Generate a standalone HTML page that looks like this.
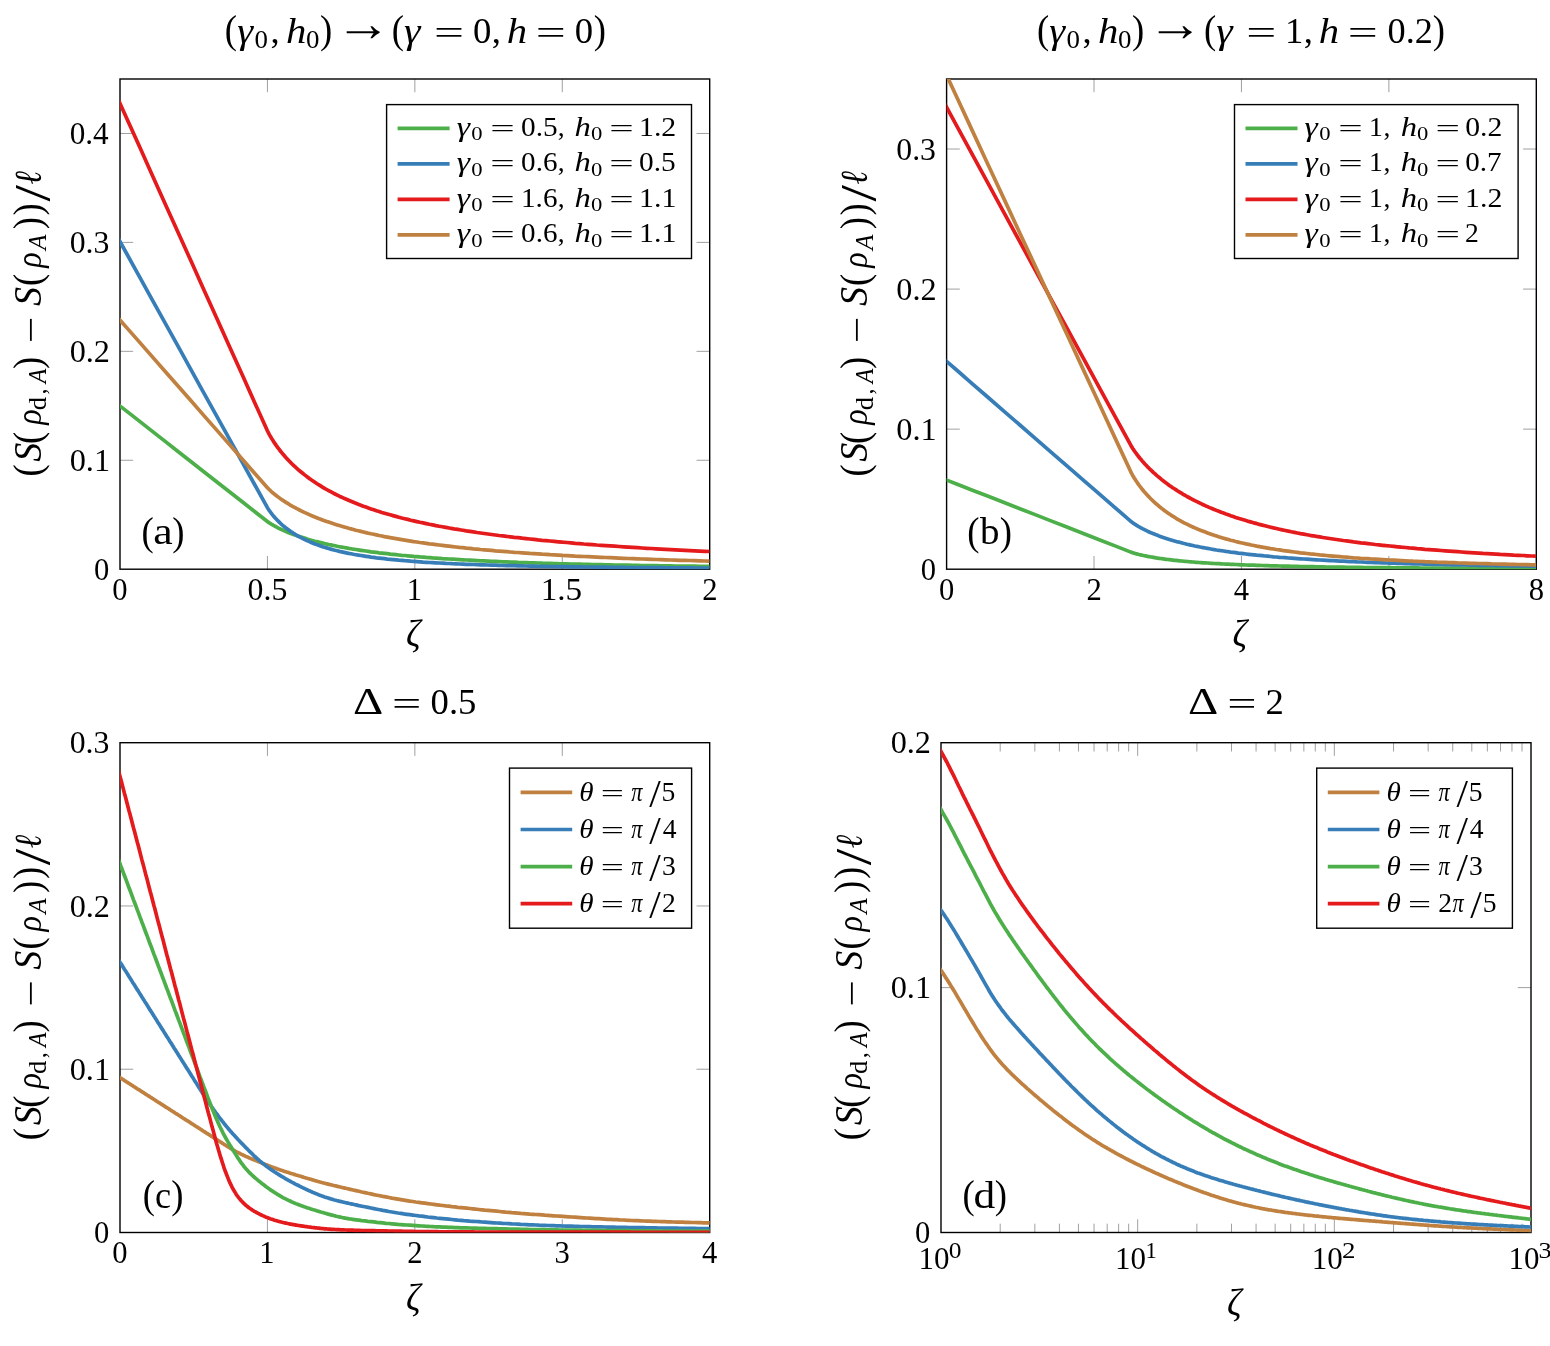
<!DOCTYPE html>
<html lang="en"><head><meta charset="utf-8"><title>Figure</title>
<style>
html,body{margin:0;padding:0;background:#fff;}
svg{display:block;}
svg text{font-family:"Liberation Serif","DejaVu Serif",serif;fill:#000;}
</style></head><body>
<svg width="1550" height="1346" viewBox="0 0 1550 1346">
<rect width="1550" height="1346" fill="#fff"/>
<defs>
<clipPath id="ca"><rect x="120" y="79" width="589.7" height="490.2"/></clipPath>
<clipPath id="cb"><rect x="946.6" y="79" width="589.7" height="490.2"/></clipPath>
<clipPath id="cc"><rect x="120" y="742.7" width="589.7" height="489.8"/></clipPath>
<clipPath id="cd"><rect x="941" y="742.7" width="590" height="489.8"/></clipPath>
</defs>
<path d="M267.43 569.2v-13.2M267.43 79v13.2M414.85 569.2v-13.2M414.85 79v13.2M562.28 569.2v-13.2M562.28 79v13.2M120 460.27h13.2M709.7 460.27h-13.2M120 351.33h13.2M709.7 351.33h-13.2M120 242.4h13.2M709.7 242.4h-13.2M120 133.47h13.2M709.7 133.47h-13.2" stroke="#6c6c6c" stroke-width="0.65" fill="none"/>
<rect x="120" y="79" width="589.7" height="490.2" fill="none" stroke="#000" stroke-width="1.4"/>
<polyline points="114.1,401.4 126.9,411.4 139.7,421.4 152.4,431.4 165.2,441.4 178.0,451.5 190.8,461.5 203.5,471.5 216.3,481.5 229.1,491.5 241.9,501.5 254.6,511.5 267.4,521.5 267.5,521.6 267.6,521.6 267.8,521.8 268.0,521.9 268.3,522.2 268.6,522.4 269.0,522.7 269.5,522.9 269.9,523.3 270.5,523.6 271.0,523.9 271.6,524.3 272.3,524.7 273.0,525.1 273.7,525.5 274.5,526.0 275.3,526.4 276.2,526.9 277.1,527.3 278.0,527.8 279.0,528.3 280.0,528.8 281.0,529.3 282.1,529.8 283.3,530.3 284.4,530.8 285.6,531.3 286.8,531.9 288.1,532.4 289.4,532.9 290.7,533.4 292.1,534.0 293.5,534.5 295.0,535.0 296.4,535.5 297.9,536.1 299.5,536.6 301.1,537.1 302.7,537.6 304.3,538.1 306.0,538.6 307.7,539.2 309.4,539.7 311.2,540.2 313.0,540.7 314.9,541.2 316.7,541.6 318.6,542.1 320.6,542.6 322.5,543.1 324.5,543.6 326.6,544.0 328.6,544.5 330.7,544.9 332.9,545.4 335.0,545.8 337.2,546.3 339.4,546.7 341.7,547.1 344.0,547.5 346.3,547.9 348.6,548.4 351.0,548.8 353.4,549.2 355.8,549.5 358.3,549.9 360.8,550.3 363.3,550.7 365.9,551.0 368.4,551.4 371.0,551.8 373.7,552.1 376.4,552.4 379.1,552.8 381.8,553.1 384.5,553.4 387.3,553.7 390.2,554.1 393.0,554.4 395.9,554.7 398.8,555.0 401.7,555.3 404.7,555.5 407.7,555.8 410.7,556.1 413.7,556.4 416.8,556.6 419.9,556.9 423.1,557.1 426.2,557.4 429.4,557.6 432.6,557.9 435.9,558.1 439.1,558.3 442.4,558.6 445.8,558.8 449.1,559.0 452.5,559.2 455.9,559.4 459.4,559.6 462.8,559.8 466.3,560.0 469.9,560.2 473.4,560.4 477.0,560.6 480.6,560.8 484.2,560.9 487.9,561.1 491.6,561.3 495.3,561.4 499.0,561.6 502.8,561.8 506.6,561.9 510.4,562.1 514.3,562.2 518.2,562.4 522.1,562.5 526.0,562.6 529.9,562.8 533.9,562.9 537.9,563.0 542.0,563.2 546.0,563.3 550.1,563.4 554.2,563.5 558.4,563.7 562.6,563.8 566.8,563.9 571.0,564.0 575.2,564.1 579.5,564.2 583.8,564.3 588.1,564.4 592.5,564.5 596.9,564.6 601.3,564.7 605.7,564.8 610.2,564.9 614.6,565.0 619.2,565.1 623.7,565.1 628.2,565.2 632.8,565.3 637.4,565.4 642.1,565.5 646.8,565.5 651.4,565.6 656.2,565.7 660.9,565.8 665.7,565.8 670.5,565.9 675.3,566.0 680.1,566.0 685.0,566.1 689.9,566.1 694.8,566.2 699.7,566.3 704.7,566.3 709.7,566.4" fill="none" stroke="#4daf4a" stroke-width="3.7" stroke-linejoin="round" clip-path="url(#ca)"/>
<polyline points="114.1,231.0 126.9,254.0 139.7,277.1 152.4,300.1 165.2,323.2 178.0,346.2 190.8,369.3 203.5,392.3 216.3,415.4 229.1,438.4 241.9,461.5 254.6,484.5 267.4,507.6 267.5,507.7 267.6,507.9 267.8,508.2 268.0,508.6 268.3,509.0 268.6,509.5 269.0,510.1 269.5,510.8 269.9,511.4 270.5,512.2 271.0,512.9 271.6,513.7 272.3,514.6 273.0,515.4 273.7,516.3 274.5,517.2 275.3,518.1 276.2,519.0 277.1,520.0 278.0,520.9 279.0,521.9 280.0,522.9 281.0,523.8 282.1,524.8 283.3,525.8 284.4,526.7 285.6,527.7 286.8,528.6 288.1,529.6 289.4,530.5 290.7,531.5 292.1,532.4 293.5,533.3 295.0,534.2 296.4,535.1 297.9,536.0 299.5,536.8 301.1,537.7 302.7,538.5 304.3,539.4 306.0,540.2 307.7,540.9 309.4,541.7 311.2,542.5 313.0,543.2 314.9,543.9 316.7,544.6 318.6,545.3 320.6,546.0 322.5,546.7 324.5,547.3 326.6,547.9 328.6,548.5 330.7,549.1 332.9,549.7 335.0,550.3 337.2,550.8 339.4,551.4 341.7,551.9 344.0,552.4 346.3,552.9 348.6,553.4 351.0,553.8 353.4,554.3 355.8,554.7 358.3,555.1 360.8,555.5 363.3,555.9 365.9,556.3 368.4,556.7 371.0,557.1 373.7,557.4 376.4,557.8 379.1,558.1 381.8,558.4 384.5,558.7 387.3,559.1 390.2,559.3 393.0,559.6 395.9,559.9 398.8,560.2 401.7,560.4 404.7,560.7 407.7,560.9 410.7,561.2 413.7,561.4 416.8,561.6 419.9,561.8 423.1,562.1 426.2,562.3 429.4,562.5 432.6,562.6 435.9,562.8 439.1,563.0 442.4,563.2 445.8,563.4 449.1,563.5 452.5,563.7 455.9,563.8 459.4,564.0 462.8,564.1 466.3,564.3 469.9,564.4 473.4,564.5 477.0,564.7 480.6,564.8 484.2,564.9 487.9,565.0 491.6,565.1 495.3,565.2 499.0,565.4 502.8,565.5 506.6,565.6 510.4,565.7 514.3,565.7 518.2,565.8 522.1,565.9 526.0,566.0 529.9,566.1 533.9,566.2 537.9,566.3 542.0,566.3 546.0,566.4 550.1,566.5 554.2,566.6 558.4,566.6 562.6,566.7 566.8,566.7 571.0,566.8 575.2,566.9 579.5,566.9 583.8,567.0 588.1,567.0 592.5,567.1 596.9,567.1 601.3,567.2 605.7,567.2 610.2,567.3 614.6,567.3 619.2,567.4 623.7,567.4 628.2,567.5 632.8,567.5 637.4,567.6 642.1,567.6 646.8,567.6 651.4,567.7 656.2,567.7 660.9,567.7 665.7,567.8 670.5,567.8 675.3,567.8 680.1,567.9 685.0,567.9 689.9,567.9 694.8,568.0 699.7,568.0 704.7,568.0 709.7,568.1" fill="none" stroke="#377eb8" stroke-width="3.7" stroke-linejoin="round" clip-path="url(#ca)"/>
<polyline points="114.1,90.4 126.9,118.8 139.7,147.1 152.4,175.5 165.2,203.9 178.0,232.2 190.8,260.6 203.5,288.9 216.3,317.3 229.1,345.7 241.9,374.0 254.6,402.4 267.4,430.7 267.5,430.8 267.6,431.1 267.8,431.5 268.0,431.9 268.3,432.5 268.6,433.2 269.0,433.9 269.5,434.7 269.9,435.6 270.5,436.5 271.0,437.4 271.6,438.5 272.3,439.5 273.0,440.6 273.7,441.8 274.5,442.9 275.3,444.1 276.2,445.4 277.1,446.6 278.0,447.9 279.0,449.2 280.0,450.5 281.0,451.8 282.1,453.1 283.3,454.5 284.4,455.8 285.6,457.2 286.8,458.5 288.1,459.9 289.4,461.2 290.7,462.6 292.1,464.0 293.5,465.3 295.0,466.7 296.4,468.0 297.9,469.4 299.5,470.7 301.1,472.0 302.7,473.3 304.3,474.6 306.0,475.9 307.7,477.2 309.4,478.5 311.2,479.8 313.0,481.0 314.9,482.3 316.7,483.5 318.6,484.7 320.6,485.9 322.5,487.1 324.5,488.3 326.6,489.5 328.6,490.6 330.7,491.7 332.9,492.9 335.0,494.0 337.2,495.1 339.4,496.2 341.7,497.2 344.0,498.3 346.3,499.3 348.6,500.3 351.0,501.3 353.4,502.3 355.8,503.3 358.3,504.3 360.8,505.2 363.3,506.2 365.9,507.1 368.4,508.0 371.0,508.9 373.7,509.8 376.4,510.7 379.1,511.5 381.8,512.4 384.5,513.2 387.3,514.0 390.2,514.8 393.0,515.6 395.9,516.4 398.8,517.2 401.7,518.0 404.7,518.7 407.7,519.4 410.7,520.2 413.7,520.9 416.8,521.6 419.9,522.3 423.1,522.9 426.2,523.6 429.4,524.3 432.6,524.9 435.9,525.6 439.1,526.2 442.4,526.8 445.8,527.4 449.1,528.0 452.5,528.6 455.9,529.2 459.4,529.7 462.8,530.3 466.3,530.9 469.9,531.4 473.4,531.9 477.0,532.5 480.6,533.0 484.2,533.5 487.9,534.0 491.6,534.5 495.3,535.0 499.0,535.5 502.8,535.9 506.6,536.4 510.4,536.8 514.3,537.3 518.2,537.7 522.1,538.2 526.0,538.6 529.9,539.0 533.9,539.4 537.9,539.9 542.0,540.3 546.0,540.6 550.1,541.0 554.2,541.4 558.4,541.8 562.6,542.2 566.8,542.5 571.0,542.9 575.2,543.3 579.5,543.6 583.8,544.0 588.1,544.3 592.5,544.6 596.9,545.0 601.3,545.3 605.7,545.6 610.2,545.9 614.6,546.2 619.2,546.5 623.7,546.8 628.2,547.1 632.8,547.4 637.4,547.7 642.1,548.0 646.8,548.3 651.4,548.5 656.2,548.8 660.9,549.1 665.7,549.3 670.5,549.6 675.3,549.9 680.1,550.1 685.0,550.4 689.9,550.6 694.8,550.8 699.7,551.1 704.7,551.3 709.7,551.5" fill="none" stroke="#e41a1c" stroke-width="3.7" stroke-linejoin="round" clip-path="url(#ca)"/>
<polyline points="114.1,313.4 126.9,327.9 139.7,342.4 152.4,356.9 165.2,371.5 178.0,386.0 190.8,400.5 203.5,415.1 216.3,429.6 229.1,444.1 241.9,458.7 254.6,473.2 267.4,487.7 267.5,487.8 267.6,487.9 267.8,488.1 268.0,488.3 268.3,488.6 268.6,489.0 269.0,489.4 269.5,489.8 269.9,490.2 270.5,490.7 271.0,491.2 271.6,491.8 272.3,492.4 273.0,493.0 273.7,493.6 274.5,494.2 275.3,494.9 276.2,495.5 277.1,496.2 278.0,496.9 279.0,497.6 280.0,498.4 281.0,499.1 282.1,499.9 283.3,500.6 284.4,501.4 285.6,502.1 286.8,502.9 288.1,503.7 289.4,504.5 290.7,505.3 292.1,506.1 293.5,506.8 295.0,507.6 296.4,508.4 297.9,509.2 299.5,510.0 301.1,510.8 302.7,511.6 304.3,512.4 306.0,513.1 307.7,513.9 309.4,514.7 311.2,515.5 313.0,516.2 314.9,517.0 316.7,517.7 318.6,518.5 320.6,519.2 322.5,520.0 324.5,520.7 326.6,521.4 328.6,522.1 330.7,522.8 332.9,523.5 335.0,524.2 337.2,524.9 339.4,525.6 341.7,526.3 344.0,526.9 346.3,527.6 348.6,528.3 351.0,528.9 353.4,529.5 355.8,530.2 358.3,530.8 360.8,531.4 363.3,532.0 365.9,532.6 368.4,533.2 371.0,533.8 373.7,534.3 376.4,534.9 379.1,535.5 381.8,536.0 384.5,536.6 387.3,537.1 390.2,537.6 393.0,538.1 395.9,538.6 398.8,539.1 401.7,539.6 404.7,540.1 407.7,540.6 410.7,541.1 413.7,541.6 416.8,542.0 419.9,542.5 423.1,542.9 426.2,543.3 429.4,543.8 432.6,544.2 435.9,544.6 439.1,545.0 442.4,545.4 445.8,545.8 449.1,546.2 452.5,546.6 455.9,547.0 459.4,547.4 462.8,547.7 466.3,548.1 469.9,548.4 473.4,548.8 477.0,549.1 480.6,549.5 484.2,549.8 487.9,550.1 491.6,550.4 495.3,550.8 499.0,551.1 502.8,551.4 506.6,551.7 510.4,552.0 514.3,552.3 518.2,552.5 522.1,552.8 526.0,553.1 529.9,553.4 533.9,553.6 537.9,553.9 542.0,554.2 546.0,554.4 550.1,554.7 554.2,554.9 558.4,555.1 562.6,555.4 566.8,555.6 571.0,555.8 575.2,556.1 579.5,556.3 583.8,556.5 588.1,556.7 592.5,556.9 596.9,557.1 601.3,557.3 605.7,557.5 610.2,557.7 614.6,557.9 619.2,558.1 623.7,558.3 628.2,558.5 632.8,558.6 637.4,558.8 642.1,559.0 646.8,559.2 651.4,559.3 656.2,559.5 660.9,559.6 665.7,559.8 670.5,560.0 675.3,560.1 680.1,560.3 685.0,560.4 689.9,560.5 694.8,560.7 699.7,560.8 704.7,561.0 709.7,561.1" fill="none" stroke="#bf8040" stroke-width="3.7" stroke-linejoin="round" clip-path="url(#ca)"/>
<path d="M1094.03 569.2v-13.2M1094.03 79v13.2M1241.45 569.2v-13.2M1241.45 79v13.2M1388.88 569.2v-13.2M1388.88 79v13.2M946.6 429.14h13.2M1536.3 429.14h-13.2M946.6 289.09h13.2M1536.3 289.09h-13.2M946.6 149.03h13.2M1536.3 149.03h-13.2" stroke="#6c6c6c" stroke-width="0.65" fill="none"/>
<rect x="946.6" y="79" width="589.7" height="490.2" fill="none" stroke="#000" stroke-width="1.4"/>
<polyline points="940.7,477.8 956.6,484.0 972.4,490.2 988.2,496.3 1004.1,502.5 1019.9,508.7 1035.8,514.9 1051.6,521.1 1067.5,527.3 1083.3,533.5 1099.2,539.7 1115.0,545.9 1130.9,552.1 1130.9,552.1 1131.0,552.2 1131.2,552.2 1131.4,552.3 1131.7,552.4 1132.0,552.5 1132.3,552.6 1132.7,552.8 1133.2,552.9 1133.7,553.0 1134.2,553.2 1134.8,553.4 1135.4,553.5 1136.0,553.7 1136.7,553.9 1137.4,554.1 1138.1,554.3 1138.9,554.5 1139.7,554.7 1140.6,554.9 1141.5,555.1 1142.4,555.3 1143.4,555.5 1144.4,555.7 1145.4,555.9 1146.5,556.1 1147.5,556.4 1148.7,556.6 1149.8,556.8 1151.0,557.0 1152.3,557.2 1153.5,557.4 1154.8,557.6 1156.1,557.9 1157.5,558.1 1158.9,558.3 1160.3,558.5 1161.7,558.7 1163.2,558.9 1164.7,559.1 1166.2,559.3 1167.8,559.5 1169.4,559.7 1171.0,559.9 1172.7,560.1 1174.4,560.3 1176.1,560.4 1177.8,560.6 1179.6,560.8 1181.4,561.0 1183.2,561.2 1185.1,561.3 1187.0,561.5 1188.9,561.7 1190.9,561.8 1192.8,562.0 1194.8,562.2 1196.9,562.3 1198.9,562.5 1201.0,562.6 1203.2,562.8 1205.3,562.9 1207.5,563.0 1209.7,563.2 1211.9,563.3 1214.2,563.5 1216.5,563.6 1218.8,563.7 1221.1,563.8 1223.5,564.0 1225.9,564.1 1228.3,564.2 1230.7,564.3 1233.2,564.4 1235.7,564.5 1238.2,564.6 1240.8,564.8 1243.4,564.9 1246.0,565.0 1248.6,565.1 1251.3,565.2 1254.0,565.2 1256.7,565.3 1259.4,565.4 1262.2,565.5 1265.0,565.6 1267.8,565.7 1270.7,565.8 1273.5,565.9 1276.4,565.9 1279.4,566.0 1282.3,566.1 1285.3,566.2 1288.3,566.2 1291.3,566.3 1294.4,566.4 1297.4,566.4 1300.5,566.5 1303.7,566.6 1306.8,566.6 1310.0,566.7 1313.2,566.7 1316.4,566.8 1319.7,566.9 1323.0,566.9 1326.3,567.0 1329.6,567.0 1333.0,567.1 1336.4,567.1 1339.8,567.2 1343.2,567.2 1346.6,567.3 1350.1,567.3 1353.6,567.3 1357.2,567.4 1360.7,567.4 1364.3,567.5 1367.9,567.5 1371.5,567.5 1375.2,567.6 1378.9,567.6 1382.6,567.7 1386.3,567.7 1390.0,567.7 1393.8,567.8 1397.6,567.8 1401.4,567.8 1405.3,567.9 1409.1,567.9 1413.0,567.9 1417.0,567.9 1420.9,568.0 1424.9,568.0 1428.9,568.0 1432.9,568.0 1436.9,568.1 1441.0,568.1 1445.1,568.1 1449.2,568.1 1453.3,568.2 1457.5,568.2 1461.6,568.2 1465.8,568.2 1470.1,568.3 1474.3,568.3 1478.6,568.3 1482.9,568.3 1487.2,568.3 1491.6,568.4 1495.9,568.4 1500.3,568.4 1504.7,568.4 1509.2,568.4 1513.6,568.4 1518.1,568.5 1522.6,568.5 1527.2,568.5 1531.7,568.5 1536.3,568.5" fill="none" stroke="#4daf4a" stroke-width="3.7" stroke-linejoin="round" clip-path="url(#cb)"/>
<polyline points="940.7,356.3 956.6,370.0 972.4,383.8 988.2,397.5 1004.1,411.3 1019.9,425.0 1035.8,438.8 1051.6,452.6 1067.5,466.3 1083.3,480.1 1099.2,493.8 1115.0,507.6 1130.9,521.3 1130.9,521.4 1131.0,521.4 1131.2,521.6 1131.4,521.8 1131.7,522.0 1132.0,522.2 1132.3,522.5 1132.7,522.8 1133.2,523.1 1133.7,523.4 1134.2,523.8 1134.8,524.1 1135.4,524.5 1136.0,524.9 1136.7,525.4 1137.4,525.8 1138.1,526.3 1138.9,526.7 1139.7,527.2 1140.6,527.7 1141.5,528.1 1142.4,528.6 1143.4,529.1 1144.4,529.6 1145.4,530.1 1146.5,530.7 1147.5,531.2 1148.7,531.7 1149.8,532.2 1151.0,532.7 1152.3,533.2 1153.5,533.8 1154.8,534.3 1156.1,534.8 1157.5,535.3 1158.9,535.9 1160.3,536.4 1161.7,536.9 1163.2,537.4 1164.7,537.9 1166.2,538.4 1167.8,538.9 1169.4,539.4 1171.0,539.9 1172.7,540.4 1174.4,540.9 1176.1,541.4 1177.8,541.9 1179.6,542.3 1181.4,542.8 1183.2,543.3 1185.1,543.7 1187.0,544.2 1188.9,544.6 1190.9,545.1 1192.8,545.5 1194.8,546.0 1196.9,546.4 1198.9,546.8 1201.0,547.2 1203.2,547.6 1205.3,548.0 1207.5,548.4 1209.7,548.8 1211.9,549.2 1214.2,549.6 1216.5,550.0 1218.8,550.3 1221.1,550.7 1223.5,551.0 1225.9,551.4 1228.3,551.7 1230.7,552.1 1233.2,552.4 1235.7,552.7 1238.2,553.1 1240.8,553.4 1243.4,553.7 1246.0,554.0 1248.6,554.3 1251.3,554.6 1254.0,554.9 1256.7,555.2 1259.4,555.4 1262.2,555.7 1265.0,556.0 1267.8,556.2 1270.7,556.5 1273.5,556.8 1276.4,557.0 1279.4,557.3 1282.3,557.5 1285.3,557.7 1288.3,558.0 1291.3,558.2 1294.4,558.4 1297.4,558.6 1300.5,558.8 1303.7,559.0 1306.8,559.2 1310.0,559.4 1313.2,559.6 1316.4,559.8 1319.7,560.0 1323.0,560.2 1326.3,560.4 1329.6,560.6 1333.0,560.7 1336.4,560.9 1339.8,561.1 1343.2,561.2 1346.6,561.4 1350.1,561.6 1353.6,561.7 1357.2,561.9 1360.7,562.0 1364.3,562.2 1367.9,562.3 1371.5,562.4 1375.2,562.6 1378.9,562.7 1382.6,562.8 1386.3,563.0 1390.0,563.1 1393.8,563.2 1397.6,563.3 1401.4,563.5 1405.3,563.6 1409.1,563.7 1413.0,563.8 1417.0,563.9 1420.9,564.0 1424.9,564.1 1428.9,564.2 1432.9,564.3 1436.9,564.4 1441.0,564.5 1445.1,564.6 1449.2,564.7 1453.3,564.8 1457.5,564.9 1461.6,564.9 1465.8,565.0 1470.1,565.1 1474.3,565.2 1478.6,565.3 1482.9,565.3 1487.2,565.4 1491.6,565.5 1495.9,565.6 1500.3,565.6 1504.7,565.7 1509.2,565.8 1513.6,565.8 1518.1,565.9 1522.6,566.0 1527.2,566.0 1531.7,566.1 1536.3,566.1" fill="none" stroke="#377eb8" stroke-width="3.7" stroke-linejoin="round" clip-path="url(#cb)"/>
<polyline points="940.7,96.5 956.6,125.6 972.4,154.7 988.2,183.7 1004.1,212.8 1019.9,241.9 1035.8,271.0 1051.6,300.1 1067.5,329.1 1083.3,358.2 1099.2,387.3 1115.0,416.4 1130.9,445.4 1130.9,445.5 1131.0,445.7 1131.2,446.0 1131.4,446.4 1131.7,446.8 1132.0,447.3 1132.3,447.9 1132.7,448.5 1133.2,449.2 1133.7,449.9 1134.2,450.7 1134.8,451.5 1135.4,452.3 1136.0,453.2 1136.7,454.1 1137.4,455.0 1138.1,456.0 1138.9,457.0 1139.7,458.0 1140.6,459.1 1141.5,460.1 1142.4,461.2 1143.4,462.3 1144.4,463.4 1145.4,464.5 1146.5,465.6 1147.5,466.8 1148.7,467.9 1149.8,469.1 1151.0,470.2 1152.3,471.4 1153.5,472.6 1154.8,473.7 1156.1,474.9 1157.5,476.1 1158.9,477.2 1160.3,478.4 1161.7,479.6 1163.2,480.8 1164.7,481.9 1166.2,483.1 1167.8,484.2 1169.4,485.4 1171.0,486.5 1172.7,487.7 1174.4,488.8 1176.1,489.9 1177.8,491.0 1179.6,492.1 1181.4,493.2 1183.2,494.3 1185.1,495.4 1187.0,496.5 1188.9,497.5 1190.9,498.6 1192.8,499.6 1194.8,500.7 1196.9,501.7 1198.9,502.7 1201.0,503.7 1203.2,504.7 1205.3,505.7 1207.5,506.6 1209.7,507.6 1211.9,508.5 1214.2,509.5 1216.5,510.4 1218.8,511.3 1221.1,512.2 1223.5,513.1 1225.9,514.0 1228.3,514.8 1230.7,515.7 1233.2,516.5 1235.7,517.4 1238.2,518.2 1240.8,519.0 1243.4,519.8 1246.0,520.6 1248.6,521.4 1251.3,522.1 1254.0,522.9 1256.7,523.6 1259.4,524.4 1262.2,525.1 1265.0,525.8 1267.8,526.5 1270.7,527.2 1273.5,527.9 1276.4,528.5 1279.4,529.2 1282.3,529.9 1285.3,530.5 1288.3,531.1 1291.3,531.8 1294.4,532.4 1297.4,533.0 1300.5,533.6 1303.7,534.1 1306.8,534.7 1310.0,535.3 1313.2,535.8 1316.4,536.4 1319.7,536.9 1323.0,537.5 1326.3,538.0 1329.6,538.5 1333.0,539.0 1336.4,539.5 1339.8,540.0 1343.2,540.5 1346.6,540.9 1350.1,541.4 1353.6,541.9 1357.2,542.3 1360.7,542.8 1364.3,543.2 1367.9,543.6 1371.5,544.0 1375.2,544.5 1378.9,544.9 1382.6,545.3 1386.3,545.7 1390.0,546.0 1393.8,546.4 1397.6,546.8 1401.4,547.2 1405.3,547.5 1409.1,547.9 1413.0,548.2 1417.0,548.6 1420.9,548.9 1424.9,549.3 1428.9,549.6 1432.9,549.9 1436.9,550.2 1441.0,550.5 1445.1,550.8 1449.2,551.1 1453.3,551.4 1457.5,551.7 1461.6,552.0 1465.8,552.3 1470.1,552.6 1474.3,552.8 1478.6,553.1 1482.9,553.4 1487.2,553.6 1491.6,553.9 1495.9,554.1 1500.3,554.4 1504.7,554.6 1509.2,554.8 1513.6,555.1 1518.1,555.3 1522.6,555.5 1527.2,555.8 1531.7,556.0 1536.3,556.2" fill="none" stroke="#e41a1c" stroke-width="3.7" stroke-linejoin="round" clip-path="url(#cb)"/>
<polyline points="940.7,62.6 956.6,96.8 972.4,130.9 988.2,165.0 1004.1,199.1 1019.9,233.2 1035.8,267.3 1051.6,301.4 1067.5,335.5 1083.3,369.6 1099.2,403.8 1115.0,437.9 1130.9,472.0 1130.9,472.1 1131.0,472.3 1131.2,472.6 1131.4,473.1 1131.7,473.6 1132.0,474.1 1132.3,474.8 1132.7,475.5 1133.2,476.3 1133.7,477.1 1134.2,478.0 1134.8,478.9 1135.4,479.8 1136.0,480.8 1136.7,481.8 1137.4,482.8 1138.1,483.9 1138.9,485.0 1139.7,486.1 1140.6,487.2 1141.5,488.4 1142.4,489.5 1143.4,490.7 1144.4,491.9 1145.4,493.0 1146.5,494.2 1147.5,495.4 1148.7,496.6 1149.8,497.8 1151.0,499.0 1152.3,500.2 1153.5,501.4 1154.8,502.6 1156.1,503.8 1157.5,504.9 1158.9,506.1 1160.3,507.3 1161.7,508.4 1163.2,509.5 1164.7,510.7 1166.2,511.8 1167.8,512.9 1169.4,514.0 1171.0,515.1 1172.7,516.2 1174.4,517.2 1176.1,518.3 1177.8,519.3 1179.6,520.3 1181.4,521.3 1183.2,522.3 1185.1,523.3 1187.0,524.2 1188.9,525.2 1190.9,526.1 1192.8,527.0 1194.8,527.9 1196.9,528.8 1198.9,529.6 1201.0,530.5 1203.2,531.3 1205.3,532.1 1207.5,532.9 1209.7,533.7 1211.9,534.5 1214.2,535.3 1216.5,536.0 1218.8,536.8 1221.1,537.5 1223.5,538.2 1225.9,538.9 1228.3,539.5 1230.7,540.2 1233.2,540.8 1235.7,541.5 1238.2,542.1 1240.8,542.7 1243.4,543.3 1246.0,543.9 1248.6,544.4 1251.3,545.0 1254.0,545.5 1256.7,546.1 1259.4,546.6 1262.2,547.1 1265.0,547.6 1267.8,548.1 1270.7,548.6 1273.5,549.0 1276.4,549.5 1279.4,549.9 1282.3,550.4 1285.3,550.8 1288.3,551.2 1291.3,551.6 1294.4,552.0 1297.4,552.4 1300.5,552.8 1303.7,553.1 1306.8,553.5 1310.0,553.9 1313.2,554.2 1316.4,554.5 1319.7,554.9 1323.0,555.2 1326.3,555.5 1329.6,555.8 1333.0,556.1 1336.4,556.4 1339.8,556.7 1343.2,557.0 1346.6,557.2 1350.1,557.5 1353.6,557.8 1357.2,558.0 1360.7,558.3 1364.3,558.5 1367.9,558.7 1371.5,559.0 1375.2,559.2 1378.9,559.4 1382.6,559.6 1386.3,559.8 1390.0,560.0 1393.8,560.2 1397.6,560.4 1401.4,560.6 1405.3,560.8 1409.1,561.0 1413.0,561.2 1417.0,561.3 1420.9,561.5 1424.9,561.7 1428.9,561.8 1432.9,562.0 1436.9,562.2 1441.0,562.3 1445.1,562.4 1449.2,562.6 1453.3,562.7 1457.5,562.9 1461.6,563.0 1465.8,563.1 1470.1,563.3 1474.3,563.4 1478.6,563.5 1482.9,563.6 1487.2,563.7 1491.6,563.9 1495.9,564.0 1500.3,564.1 1504.7,564.2 1509.2,564.3 1513.6,564.4 1518.1,564.5 1522.6,564.6 1527.2,564.7 1531.7,564.8 1536.3,564.9" fill="none" stroke="#bf8040" stroke-width="3.7" stroke-linejoin="round" clip-path="url(#cb)"/>
<path d="M267.43 1232.5v-13.2M267.43 742.7v13.2M414.85 1232.5v-13.2M414.85 742.7v13.2M562.28 1232.5v-13.2M562.28 742.7v13.2M120 1069.23h13.2M709.7 1069.23h-13.2M120 905.97h13.2M709.7 905.97h-13.2" stroke="#6c6c6c" stroke-width="0.65" fill="none"/>
<rect x="120" y="742.7" width="589.7" height="489.8" fill="none" stroke="#000" stroke-width="1.4"/>
<polyline points="117.1,1075.8 118.0,1076.4 118.9,1076.9 119.8,1077.5 120.7,1078.1 121.7,1078.7 122.6,1079.3 123.5,1079.9 124.4,1080.5 125.4,1081.1 126.3,1081.7 127.2,1082.3 128.1,1082.9 129.0,1083.4 130.0,1084.0 130.9,1084.6 131.8,1085.2 132.7,1085.8 133.6,1086.4 134.6,1087.0 135.5,1087.6 136.4,1088.2 137.3,1088.8 138.3,1089.4 139.2,1089.9 140.1,1090.5 141.0,1091.1 141.9,1091.7 142.9,1092.3 143.8,1092.9 144.7,1093.5 145.6,1094.1 146.6,1094.7 147.5,1095.3 148.4,1095.8 149.3,1096.4 150.2,1097.0 151.2,1097.6 152.1,1098.2 153.0,1098.8 153.9,1099.4 154.9,1100.0 155.8,1100.6 156.7,1101.2 157.6,1101.8 158.5,1102.3 159.5,1102.9 160.4,1103.5 161.3,1104.1 162.2,1104.7 163.2,1105.3 164.1,1105.9 165.0,1106.5 165.9,1107.1 166.8,1107.7 167.8,1108.2 168.7,1108.8 169.6,1109.4 170.5,1110.0 171.5,1110.6 172.4,1111.2 173.3,1111.8 174.2,1112.4 175.1,1113.0 176.1,1113.6 177.0,1114.2 177.9,1114.7 178.8,1115.3 179.8,1115.9 180.7,1116.5 181.6,1117.1 182.5,1117.7 183.4,1118.3 184.4,1118.9 185.3,1119.5 186.2,1120.1 187.1,1120.6 188.1,1121.2 189.0,1121.8 189.9,1122.4 190.8,1123.0 191.7,1123.6 192.7,1124.2 193.6,1124.8 194.5,1125.4 195.4,1126.0 196.4,1126.6 197.3,1127.1 198.2,1127.7 199.1,1128.3 200.0,1128.9 201.0,1129.5 201.9,1130.1 202.8,1130.7 203.7,1131.3 204.7,1131.9 205.6,1132.5 206.5,1133.1 207.4,1133.6 208.3,1134.2 209.3,1134.8 210.2,1135.4 211.1,1136.0 212.0,1136.6 213.0,1137.2 213.9,1137.8 214.8,1138.4 215.7,1139.0 216.6,1139.5 217.6,1140.1 218.5,1140.7 219.4,1141.3 220.3,1141.9 221.3,1142.5 222.2,1143.1 223.1,1143.7 224.0,1144.3 224.9,1144.9 225.9,1145.4 226.8,1146.0 227.7,1146.6 228.6,1147.2 229.5,1147.7 230.5,1148.3 231.4,1148.8 232.3,1149.4 233.2,1149.9 234.2,1150.4 235.1,1151.0 236.0,1151.5 236.9,1152.0 237.8,1152.5 238.8,1152.9 239.7,1153.4 240.6,1153.9 241.5,1154.3 242.5,1154.8 243.4,1155.2 244.3,1155.6 245.2,1156.1 246.1,1156.5 247.1,1156.9 248.0,1157.3 248.9,1157.7 249.8,1158.1 250.8,1158.5 251.7,1158.9 252.6,1159.2 253.5,1159.6 254.4,1160.0 255.4,1160.4 256.3,1160.8 257.2,1161.1 258.1,1161.5 259.1,1161.9 260.0,1162.3 260.9,1162.6 261.8,1163.0 262.7,1163.4 263.7,1163.7 264.6,1164.1 265.5,1164.5 266.4,1164.8 267.4,1165.2 268.3,1165.6 269.2,1165.9 270.1,1166.3 271.0,1166.6 272.0,1167.0 272.9,1167.3 273.8,1167.6 274.7,1168.0 275.7,1168.3 276.6,1168.6 277.5,1169.0 278.4,1169.3 279.3,1169.6 280.3,1169.9 281.2,1170.2 282.1,1170.5 283.0,1170.8 284.0,1171.2 284.9,1171.5 285.8,1171.8 286.7,1172.1 287.6,1172.3 288.6,1172.6 289.5,1172.9 290.4,1173.2 291.3,1173.5 292.3,1173.8 293.2,1174.1 294.1,1174.4 295.0,1174.6 295.9,1174.9 296.9,1175.2 297.8,1175.5 298.7,1175.8 299.6,1176.0 300.6,1176.3 301.5,1176.6 302.4,1176.9 303.3,1177.1 304.2,1177.4 305.2,1177.7 306.1,1178.0 307.0,1178.2 307.9,1178.5 308.9,1178.8 309.8,1179.1 310.7,1179.3 311.6,1179.6 312.5,1179.9 313.5,1180.1 314.4,1180.4 315.3,1180.7 316.2,1180.9 317.2,1181.2 318.1,1181.5 319.0,1181.7 319.9,1182.0 320.8,1182.2 321.8,1182.5 322.7,1182.7 323.6,1183.0 324.5,1183.2 325.5,1183.4 326.4,1183.7 327.3,1183.9 328.2,1184.1 329.1,1184.4 330.1,1184.6 331.0,1184.8 331.9,1185.0 332.8,1185.3 333.7,1185.5 334.7,1185.7 335.6,1185.9 336.5,1186.1 337.4,1186.4 338.4,1186.6 339.3,1186.8 340.2,1187.0 341.1,1187.2 342.0,1187.4 343.0,1187.7 343.9,1187.9 344.8,1188.1 345.7,1188.3 346.7,1188.5 347.6,1188.7 348.5,1188.9 349.4,1189.1 350.3,1189.4 351.3,1189.6 352.2,1189.8 353.1,1190.0 354.0,1190.2 355.0,1190.4 355.9,1190.6 358.9,1191.3 361.9,1192.0 364.9,1192.6 367.9,1193.3 370.9,1193.9 373.9,1194.6 376.9,1195.2 379.9,1195.8 382.9,1196.4 385.9,1196.9 388.9,1197.5 391.9,1198.1 394.9,1198.6 397.9,1199.1 400.9,1199.6 403.8,1200.1 406.8,1200.6 409.8,1201.1 412.8,1201.5 415.8,1202.0 418.8,1202.4 421.8,1202.8 424.8,1203.2 427.8,1203.6 430.8,1204.0 433.8,1204.4 436.8,1204.8 439.8,1205.2 442.8,1205.5 445.8,1205.9 448.8,1206.2 451.8,1206.6 454.8,1206.9 457.8,1207.3 460.8,1207.6 463.8,1207.9 466.8,1208.2 469.8,1208.5 472.8,1208.8 475.8,1209.2 478.8,1209.5 481.8,1209.8 484.8,1210.1 487.8,1210.3 490.8,1210.6 493.8,1210.9 496.8,1211.2 499.8,1211.5 502.8,1211.8 505.8,1212.1 508.8,1212.3 511.8,1212.6 514.8,1212.8 517.8,1213.1 520.8,1213.4 523.8,1213.6 526.8,1213.8 529.8,1214.1 532.8,1214.3 535.8,1214.5 538.8,1214.7 541.8,1214.9 544.8,1215.2 547.8,1215.4 550.8,1215.6 553.8,1215.8 556.7,1216.0 559.7,1216.2 562.7,1216.4 565.7,1216.6 568.7,1216.8 571.7,1217.0 574.7,1217.2 577.7,1217.4 580.7,1217.6 583.7,1217.8 586.7,1218.0 589.7,1218.2 592.7,1218.4 595.7,1218.6 598.7,1218.7 601.7,1218.9 604.7,1219.1 607.7,1219.3 610.7,1219.4 613.7,1219.6 616.7,1219.7 619.7,1219.9 622.7,1220.0 625.7,1220.2 628.7,1220.3 631.7,1220.5 634.7,1220.6 637.7,1220.7 640.7,1220.8 643.7,1221.0 646.7,1221.1 649.7,1221.2 652.7,1221.3 655.7,1221.4 658.7,1221.5 661.7,1221.6 664.7,1221.7 667.7,1221.8 670.7,1221.9 673.7,1222.0 676.7,1222.1 679.7,1222.1 682.7,1222.2 685.7,1222.3 688.7,1222.4 691.7,1222.5 694.7,1222.5 697.7,1222.6 700.7,1222.7 703.7,1222.8 706.7,1222.8 709.7,1222.9 712.6,1223.0" fill="none" stroke="#bf8040" stroke-width="3.7" stroke-linejoin="round" clip-path="url(#cc)"/>
<polyline points="117.1,957.5 118.0,959.0 118.9,960.4 119.8,961.9 120.7,963.3 121.7,964.8 122.6,966.3 123.5,967.7 124.4,969.2 125.4,970.7 126.3,972.1 127.2,973.6 128.1,975.0 129.0,976.5 130.0,978.0 130.9,979.4 131.8,980.9 132.7,982.4 133.6,983.8 134.6,985.3 135.5,986.8 136.4,988.2 137.3,989.7 138.3,991.1 139.2,992.6 140.1,994.1 141.0,995.5 141.9,997.0 142.9,998.5 143.8,999.9 144.7,1001.4 145.6,1002.8 146.6,1004.3 147.5,1005.8 148.4,1007.2 149.3,1008.7 150.2,1010.2 151.2,1011.6 152.1,1013.1 153.0,1014.5 153.9,1016.0 154.9,1017.5 155.8,1018.9 156.7,1020.4 157.6,1021.9 158.5,1023.3 159.5,1024.8 160.4,1026.2 161.3,1027.7 162.2,1029.2 163.2,1030.6 164.1,1032.1 165.0,1033.6 165.9,1035.0 166.8,1036.5 167.8,1037.9 168.7,1039.4 169.6,1040.9 170.5,1042.3 171.5,1043.8 172.4,1045.3 173.3,1046.7 174.2,1048.2 175.1,1049.6 176.1,1051.1 177.0,1052.6 177.9,1054.0 178.8,1055.5 179.8,1057.0 180.7,1058.4 181.6,1059.9 182.5,1061.3 183.4,1062.8 184.4,1064.3 185.3,1065.7 186.2,1067.2 187.1,1068.7 188.1,1070.1 189.0,1071.6 189.9,1073.0 190.8,1074.5 191.7,1076.0 192.7,1077.4 193.6,1078.9 194.5,1080.4 195.4,1081.8 196.4,1083.3 197.3,1084.7 198.2,1086.2 199.1,1087.7 200.0,1089.1 201.0,1090.6 201.9,1092.0 202.8,1093.5 203.7,1094.9 204.7,1096.3 205.6,1097.8 206.5,1099.2 207.4,1100.6 208.3,1102.0 209.3,1103.3 210.2,1104.7 211.1,1106.0 212.0,1107.4 213.0,1108.7 213.9,1110.0 214.8,1111.3 215.7,1112.6 216.6,1113.8 217.6,1115.0 218.5,1116.3 219.4,1117.5 220.3,1118.7 221.3,1119.9 222.2,1121.1 223.1,1122.2 224.0,1123.4 224.9,1124.5 225.9,1125.7 226.8,1126.8 227.7,1127.9 228.6,1129.0 229.5,1130.1 230.5,1131.2 231.4,1132.2 232.3,1133.3 233.2,1134.3 234.2,1135.3 235.1,1136.3 236.0,1137.3 236.9,1138.3 237.8,1139.3 238.8,1140.3 239.7,1141.2 240.6,1142.2 241.5,1143.1 242.5,1144.1 243.4,1145.0 244.3,1146.0 245.2,1146.9 246.1,1147.9 247.1,1148.8 248.0,1149.8 248.9,1150.7 249.8,1151.6 250.8,1152.5 251.7,1153.4 252.6,1154.3 253.5,1155.2 254.4,1156.1 255.4,1157.0 256.3,1157.8 257.2,1158.7 258.1,1159.5 259.1,1160.3 260.0,1161.1 260.9,1161.8 261.8,1162.6 262.7,1163.4 263.7,1164.1 264.6,1164.8 265.5,1165.5 266.4,1166.2 267.4,1166.9 268.3,1167.6 269.2,1168.3 270.1,1168.9 271.0,1169.6 272.0,1170.2 272.9,1170.8 273.8,1171.4 274.7,1172.0 275.7,1172.6 276.6,1173.2 277.5,1173.8 278.4,1174.4 279.3,1175.0 280.3,1175.5 281.2,1176.1 282.1,1176.7 283.0,1177.2 284.0,1177.7 284.9,1178.3 285.8,1178.8 286.7,1179.3 287.6,1179.8 288.6,1180.4 289.5,1180.9 290.4,1181.4 291.3,1181.9 292.3,1182.4 293.2,1182.8 294.1,1183.3 295.0,1183.8 295.9,1184.3 296.9,1184.8 297.8,1185.2 298.7,1185.7 299.6,1186.2 300.6,1186.6 301.5,1187.1 302.4,1187.5 303.3,1188.0 304.2,1188.4 305.2,1188.9 306.1,1189.3 307.0,1189.7 307.9,1190.2 308.9,1190.6 309.8,1191.0 310.7,1191.4 311.6,1191.8 312.5,1192.2 313.5,1192.6 314.4,1193.0 315.3,1193.4 316.2,1193.8 317.2,1194.1 318.1,1194.5 319.0,1194.9 319.9,1195.2 320.8,1195.6 321.8,1195.9 322.7,1196.2 323.6,1196.6 324.5,1196.9 325.5,1197.2 326.4,1197.5 327.3,1197.8 328.2,1198.1 329.1,1198.4 330.1,1198.6 331.0,1198.9 331.9,1199.2 332.8,1199.4 333.7,1199.7 334.7,1200.0 335.6,1200.2 336.5,1200.5 337.4,1200.7 338.4,1200.9 339.3,1201.2 340.2,1201.4 341.1,1201.6 342.0,1201.8 343.0,1202.1 343.9,1202.3 344.8,1202.5 345.7,1202.7 346.7,1202.9 347.6,1203.1 348.5,1203.3 349.4,1203.5 350.3,1203.7 351.3,1203.9 352.2,1204.1 353.1,1204.3 354.0,1204.5 355.0,1204.7 355.9,1204.9 358.9,1205.6 361.9,1206.2 364.9,1206.8 367.9,1207.4 370.9,1208.0 373.9,1208.6 376.9,1209.2 379.9,1209.8 382.9,1210.4 385.9,1210.9 388.9,1211.5 391.9,1212.0 394.9,1212.5 397.9,1213.0 400.9,1213.4 403.8,1213.9 406.8,1214.3 409.8,1214.7 412.8,1215.1 415.8,1215.5 418.8,1215.9 421.8,1216.2 424.8,1216.6 427.8,1217.0 430.8,1217.3 433.8,1217.6 436.8,1218.0 439.8,1218.3 442.8,1218.6 445.8,1218.9 448.8,1219.2 451.8,1219.5 454.8,1219.8 457.8,1220.1 460.8,1220.3 463.8,1220.6 466.8,1220.8 469.8,1221.1 472.8,1221.3 475.8,1221.5 478.8,1221.7 481.8,1222.0 484.8,1222.2 487.8,1222.4 490.8,1222.6 493.8,1222.8 496.8,1223.0 499.8,1223.2 502.8,1223.4 505.8,1223.5 508.8,1223.7 511.8,1223.9 514.8,1224.0 517.8,1224.2 520.8,1224.4 523.8,1224.5 526.8,1224.6 529.8,1224.8 532.8,1224.9 535.8,1225.0 538.8,1225.2 541.8,1225.3 544.8,1225.4 547.8,1225.5 550.8,1225.6 553.8,1225.7 556.7,1225.8 559.7,1225.9 562.7,1226.0 565.7,1226.1 568.7,1226.1 571.7,1226.2 574.7,1226.3 577.7,1226.4 580.7,1226.5 583.7,1226.5 586.7,1226.6 589.7,1226.7 592.7,1226.8 595.7,1226.8 598.7,1226.9 601.7,1226.9 604.7,1227.0 607.7,1227.1 610.7,1227.1 613.7,1227.2 616.7,1227.3 619.7,1227.3 622.7,1227.4 625.7,1227.4 628.7,1227.5 631.7,1227.5 634.7,1227.6 637.7,1227.6 640.7,1227.7 643.7,1227.7 646.7,1227.8 649.7,1227.8 652.7,1227.9 655.7,1227.9 658.7,1228.0 661.7,1228.0 664.7,1228.1 667.7,1228.1 670.7,1228.1 673.7,1228.2 676.7,1228.2 679.7,1228.3 682.7,1228.3 685.7,1228.3 688.7,1228.4 691.7,1228.4 694.7,1228.4 697.7,1228.5 700.7,1228.5 703.7,1228.5 706.7,1228.6 709.7,1228.6 712.6,1228.6" fill="none" stroke="#377eb8" stroke-width="3.7" stroke-linejoin="round" clip-path="url(#cc)"/>
<polyline points="117.1,855.9 118.0,858.3 118.9,860.8 119.8,863.2 120.7,865.7 121.7,868.2 122.6,870.6 123.5,873.1 124.4,875.5 125.4,878.0 126.3,880.4 127.2,882.9 128.1,885.3 129.0,887.8 130.0,890.3 130.9,892.7 131.8,895.2 132.7,897.6 133.6,900.1 134.6,902.5 135.5,905.0 136.4,907.4 137.3,909.9 138.3,912.4 139.2,914.8 140.1,917.3 141.0,919.7 141.9,922.2 142.9,924.6 143.8,927.1 144.7,929.5 145.6,932.0 146.6,934.5 147.5,936.9 148.4,939.4 149.3,941.8 150.2,944.3 151.2,946.7 152.1,949.2 153.0,951.6 153.9,954.1 154.9,956.6 155.8,959.0 156.7,961.5 157.6,963.9 158.5,966.4 159.5,968.8 160.4,971.3 161.3,973.7 162.2,976.2 163.2,978.7 164.1,981.1 165.0,983.6 165.9,986.0 166.8,988.5 167.8,990.9 168.7,993.4 169.6,995.8 170.5,998.3 171.5,1000.8 172.4,1003.2 173.3,1005.7 174.2,1008.1 175.1,1010.6 176.1,1013.0 177.0,1015.5 177.9,1017.9 178.8,1020.4 179.8,1022.9 180.7,1025.3 181.6,1027.8 182.5,1030.2 183.4,1032.7 184.4,1035.1 185.3,1037.6 186.2,1040.0 187.1,1042.5 188.1,1045.0 189.0,1047.4 189.9,1049.9 190.8,1052.3 191.7,1054.8 192.7,1057.2 193.6,1059.7 194.5,1062.1 195.4,1064.6 196.4,1067.1 197.3,1069.5 198.2,1072.0 199.1,1074.4 200.0,1076.9 201.0,1079.3 201.9,1081.8 202.8,1084.2 203.7,1086.7 204.7,1089.1 205.6,1091.5 206.5,1094.0 207.4,1096.4 208.3,1098.8 209.3,1101.2 210.2,1103.5 211.1,1105.9 212.0,1108.2 213.0,1110.5 213.9,1112.7 214.8,1115.0 215.7,1117.2 216.6,1119.3 217.6,1121.4 218.5,1123.5 219.4,1125.5 220.3,1127.5 221.3,1129.4 222.2,1131.3 223.1,1133.1 224.0,1134.8 224.9,1136.5 225.9,1138.2 226.8,1139.8 227.7,1141.4 228.6,1142.9 229.5,1144.5 230.5,1146.0 231.4,1147.5 232.3,1149.0 233.2,1150.5 234.2,1152.0 235.1,1153.4 236.0,1154.9 236.9,1156.3 237.8,1157.8 238.8,1159.2 239.7,1160.5 240.6,1161.9 241.5,1163.2 242.5,1164.4 243.4,1165.6 244.3,1166.8 245.2,1167.9 246.1,1169.0 247.1,1170.1 248.0,1171.1 248.9,1172.0 249.8,1173.0 250.8,1173.9 251.7,1174.8 252.6,1175.6 253.5,1176.5 254.4,1177.3 255.4,1178.1 256.3,1178.9 257.2,1179.6 258.1,1180.4 259.1,1181.2 260.0,1181.9 260.9,1182.7 261.8,1183.4 262.7,1184.1 263.7,1184.8 264.6,1185.5 265.5,1186.2 266.4,1186.9 267.4,1187.6 268.3,1188.3 269.2,1188.9 270.1,1189.6 271.0,1190.2 272.0,1190.8 272.9,1191.4 273.8,1192.0 274.7,1192.6 275.7,1193.2 276.6,1193.8 277.5,1194.4 278.4,1194.9 279.3,1195.5 280.3,1196.0 281.2,1196.5 282.1,1197.1 283.0,1197.6 284.0,1198.1 284.9,1198.5 285.8,1199.0 286.7,1199.5 287.6,1199.9 288.6,1200.4 289.5,1200.8 290.4,1201.2 291.3,1201.7 292.3,1202.1 293.2,1202.5 294.1,1202.9 295.0,1203.2 295.9,1203.6 296.9,1204.0 297.8,1204.3 298.7,1204.7 299.6,1205.1 300.6,1205.4 301.5,1205.7 302.4,1206.1 303.3,1206.4 304.2,1206.7 305.2,1207.0 306.1,1207.4 307.0,1207.7 307.9,1208.0 308.9,1208.3 309.8,1208.6 310.7,1208.9 311.6,1209.2 312.5,1209.5 313.5,1209.8 314.4,1210.0 315.3,1210.3 316.2,1210.6 317.2,1210.9 318.1,1211.2 319.0,1211.4 319.9,1211.7 320.8,1212.0 321.8,1212.3 322.7,1212.5 323.6,1212.8 324.5,1213.1 325.5,1213.3 326.4,1213.6 327.3,1213.9 328.2,1214.1 329.1,1214.4 330.1,1214.6 331.0,1214.9 331.9,1215.1 332.8,1215.3 333.7,1215.6 334.7,1215.8 335.6,1216.1 336.5,1216.3 337.4,1216.5 338.4,1216.7 339.3,1216.9 340.2,1217.1 341.1,1217.3 342.0,1217.5 343.0,1217.7 343.9,1217.9 344.8,1218.1 345.7,1218.2 346.7,1218.4 347.6,1218.6 348.5,1218.7 349.4,1218.9 350.3,1219.0 351.3,1219.1 352.2,1219.3 353.1,1219.4 354.0,1219.6 355.0,1219.7 355.9,1219.8 358.9,1220.2 361.9,1220.6 364.9,1220.9 367.9,1221.3 370.9,1221.6 373.9,1221.9 376.9,1222.3 379.9,1222.6 382.9,1222.9 385.9,1223.3 388.9,1223.5 391.9,1223.8 394.9,1224.1 397.9,1224.4 400.9,1224.6 403.8,1224.8 406.8,1225.0 409.8,1225.2 412.8,1225.4 415.8,1225.6 418.8,1225.8 421.8,1226.0 424.8,1226.2 427.8,1226.3 430.8,1226.5 433.8,1226.7 436.8,1226.8 439.8,1226.9 442.8,1227.1 445.8,1227.2 448.8,1227.3 451.8,1227.4 454.8,1227.6 457.8,1227.7 460.8,1227.8 463.8,1227.8 466.8,1227.9 469.8,1228.0 472.8,1228.1 475.8,1228.2 478.8,1228.3 481.8,1228.3 484.8,1228.4 487.8,1228.5 490.8,1228.6 493.8,1228.6 496.8,1228.7 499.8,1228.8 502.8,1228.9 505.8,1228.9 508.8,1229.0 511.8,1229.1 514.8,1229.2 517.8,1229.2 520.8,1229.3 523.8,1229.4 526.8,1229.4 529.8,1229.5 532.8,1229.5 535.8,1229.6 538.8,1229.6 541.8,1229.7 544.8,1229.7 547.8,1229.8 550.8,1229.8 553.8,1229.9 556.7,1229.9 559.7,1230.0 562.7,1230.0 565.7,1230.1 568.7,1230.1 571.7,1230.1 574.7,1230.2 577.7,1230.2 580.7,1230.2 583.7,1230.3 586.7,1230.3 589.7,1230.3 592.7,1230.4 595.7,1230.4 598.7,1230.4 601.7,1230.5 604.7,1230.5 607.7,1230.5 610.7,1230.6 613.7,1230.6 616.7,1230.6 619.7,1230.6 622.7,1230.7 625.7,1230.7 628.7,1230.7 631.7,1230.8 634.7,1230.8 637.7,1230.8 640.7,1230.8 643.7,1230.9 646.7,1230.9 649.7,1230.9 652.7,1230.9 655.7,1231.0 658.7,1231.0 661.7,1231.0 664.7,1231.0 667.7,1231.0 670.7,1231.1 673.7,1231.1 676.7,1231.1 679.7,1231.1 682.7,1231.1 685.7,1231.1 688.7,1231.1 691.7,1231.1 694.7,1231.2 697.7,1231.2 700.7,1231.2 703.7,1231.2 706.7,1231.2 709.7,1231.2 712.6,1231.2" fill="none" stroke="#4daf4a" stroke-width="3.7" stroke-linejoin="round" clip-path="url(#cc)"/>
<polyline points="117.1,765.1 118.0,768.6 118.9,772.1 119.8,775.6 120.7,779.1 121.7,782.6 122.6,786.1 123.5,789.6 124.4,793.2 125.4,796.7 126.3,800.2 127.2,803.7 128.1,807.2 129.0,810.7 130.0,814.2 130.9,817.7 131.8,821.3 132.7,824.8 133.6,828.3 134.6,831.8 135.5,835.3 136.4,838.8 137.3,842.3 138.3,845.8 139.2,849.3 140.1,852.9 141.0,856.4 141.9,859.9 142.9,863.4 143.8,866.9 144.7,870.4 145.6,873.9 146.6,877.4 147.5,880.9 148.4,884.5 149.3,888.0 150.2,891.5 151.2,895.0 152.1,898.5 153.0,902.0 153.9,905.5 154.9,909.0 155.8,912.5 156.7,916.1 157.6,919.6 158.5,923.1 159.5,926.6 160.4,930.1 161.3,933.6 162.2,937.1 163.2,940.6 164.1,944.2 165.0,947.7 165.9,951.2 166.8,954.7 167.8,958.2 168.7,961.7 169.6,965.2 170.5,968.7 171.5,972.2 172.4,975.8 173.3,979.3 174.2,982.8 175.1,986.3 176.1,989.8 177.0,993.3 177.9,996.8 178.8,1000.3 179.8,1003.8 180.7,1007.4 181.6,1010.9 182.5,1014.4 183.4,1017.9 184.4,1021.4 185.3,1024.9 186.2,1028.4 187.1,1031.9 188.1,1035.4 189.0,1039.0 189.9,1042.5 190.8,1046.0 191.7,1049.5 192.7,1053.0 193.6,1056.5 194.5,1060.0 195.4,1063.5 196.4,1067.1 197.3,1070.6 198.2,1074.1 199.1,1077.6 200.0,1081.1 201.0,1084.6 201.9,1088.1 202.8,1091.6 203.7,1095.1 204.7,1098.7 205.6,1102.2 206.5,1105.7 207.4,1109.2 208.3,1112.7 209.3,1116.2 210.2,1119.6 211.1,1123.1 212.0,1126.6 213.0,1130.0 213.9,1133.4 214.8,1136.8 215.7,1140.2 216.6,1143.5 217.6,1146.8 218.5,1150.0 219.4,1153.1 220.3,1156.2 221.3,1159.1 222.2,1162.0 223.1,1164.8 224.0,1167.6 224.9,1170.2 225.9,1172.7 226.8,1175.1 227.7,1177.4 228.6,1179.6 229.5,1181.8 230.5,1183.8 231.4,1185.7 232.3,1187.6 233.2,1189.3 234.2,1190.9 235.1,1192.4 236.0,1193.9 236.9,1195.3 237.8,1196.5 238.8,1197.8 239.7,1198.9 240.6,1200.0 241.5,1201.0 242.5,1202.0 243.4,1203.0 244.3,1203.8 245.2,1204.7 246.1,1205.5 247.1,1206.2 248.0,1207.0 248.9,1207.7 249.8,1208.3 250.8,1209.0 251.7,1209.6 252.6,1210.2 253.5,1210.8 254.4,1211.3 255.4,1211.8 256.3,1212.4 257.2,1212.9 258.1,1213.4 259.1,1213.8 260.0,1214.3 260.9,1214.8 261.8,1215.2 262.7,1215.6 263.7,1216.0 264.6,1216.5 265.5,1216.9 266.4,1217.2 267.4,1217.6 268.3,1218.0 269.2,1218.3 270.1,1218.7 271.0,1219.0 272.0,1219.3 272.9,1219.6 273.8,1219.9 274.7,1220.2 275.7,1220.5 276.6,1220.8 277.5,1221.1 278.4,1221.3 279.3,1221.6 280.3,1221.8 281.2,1222.0 282.1,1222.3 283.0,1222.5 284.0,1222.7 284.9,1222.9 285.8,1223.1 286.7,1223.3 287.6,1223.5 288.6,1223.7 289.5,1223.9 290.4,1224.1 291.3,1224.2 292.3,1224.4 293.2,1224.6 294.1,1224.7 295.0,1224.9 295.9,1225.1 296.9,1225.2 297.8,1225.4 298.7,1225.5 299.6,1225.7 300.6,1225.8 301.5,1225.9 302.4,1226.1 303.3,1226.2 304.2,1226.3 305.2,1226.5 306.1,1226.6 307.0,1226.7 307.9,1226.9 308.9,1227.0 309.8,1227.1 310.7,1227.2 311.6,1227.4 312.5,1227.5 313.5,1227.6 314.4,1227.7 315.3,1227.8 316.2,1227.9 317.2,1228.0 318.1,1228.1 319.0,1228.2 319.9,1228.3 320.8,1228.4 321.8,1228.5 322.7,1228.6 323.6,1228.7 324.5,1228.8 325.5,1228.8 326.4,1228.9 327.3,1229.0 328.2,1229.1 329.1,1229.1 330.1,1229.2 331.0,1229.3 331.9,1229.3 332.8,1229.4 333.7,1229.4 334.7,1229.5 335.6,1229.5 336.5,1229.6 337.4,1229.6 338.4,1229.7 339.3,1229.7 340.2,1229.8 341.1,1229.8 342.0,1229.8 343.0,1229.9 343.9,1229.9 344.8,1230.0 345.7,1230.0 346.7,1230.0 347.6,1230.1 348.5,1230.1 349.4,1230.1 350.3,1230.1 351.3,1230.2 352.2,1230.2 353.1,1230.2 354.0,1230.3 355.0,1230.3 355.9,1230.3 358.9,1230.4 361.9,1230.5 364.9,1230.5 367.9,1230.6 370.9,1230.7 373.9,1230.7 376.9,1230.8 379.9,1230.8 382.9,1230.9 385.9,1230.9 388.9,1231.0 391.9,1231.0 394.9,1231.1 397.9,1231.2 400.9,1231.2 403.8,1231.3 406.8,1231.3 409.8,1231.4 412.8,1231.4 415.8,1231.5 418.8,1231.5 421.8,1231.5 424.8,1231.6 427.8,1231.6 430.8,1231.7 433.8,1231.7 436.8,1231.7 439.8,1231.8 442.8,1231.8 445.8,1231.8 448.8,1231.8 451.8,1231.9 454.8,1231.9 457.8,1231.9 460.8,1231.9 463.8,1231.9 466.8,1231.9 469.8,1231.9 472.8,1231.9 475.8,1232.0 478.8,1232.0 481.8,1232.0 484.8,1232.0 487.8,1232.0 490.8,1232.0 493.8,1232.0 496.8,1232.0 499.8,1232.0 502.8,1232.0 505.8,1232.0 508.8,1232.0 511.8,1232.0 514.8,1232.0 517.8,1232.0 520.8,1232.0 523.8,1232.1 526.8,1232.1 529.8,1232.1 532.8,1232.1 535.8,1232.1 538.8,1232.1 541.8,1232.1 544.8,1232.1 547.8,1232.1 550.8,1232.1 553.8,1232.1 556.7,1232.1 559.7,1232.1 562.7,1232.1 565.7,1232.1 568.7,1232.1 571.7,1232.1 574.7,1232.2 577.7,1232.2 580.7,1232.2 583.7,1232.2 586.7,1232.2 589.7,1232.2 592.7,1232.2 595.7,1232.2 598.7,1232.2 601.7,1232.2 604.7,1232.2 607.7,1232.2 610.7,1232.2 613.7,1232.2 616.7,1232.2 619.7,1232.2 622.7,1232.2 625.7,1232.2 628.7,1232.2 631.7,1232.3 634.7,1232.3 637.7,1232.3 640.7,1232.3 643.7,1232.3 646.7,1232.3 649.7,1232.3 652.7,1232.3 655.7,1232.3 658.7,1232.3 661.7,1232.3 664.7,1232.3 667.7,1232.3 670.7,1232.3 673.7,1232.3 676.7,1232.3 679.7,1232.3 682.7,1232.3 685.7,1232.3 688.7,1232.3 691.7,1232.3 694.7,1232.3 697.7,1232.3 700.7,1232.3 703.7,1232.3 706.7,1232.3 709.7,1232.3 712.6,1232.3" fill="none" stroke="#e41a1c" stroke-width="3.7" stroke-linejoin="round" clip-path="url(#cc)"/>
<path d="M1137.67 1232.5v-13.2M1137.67 742.7v13.2M1334.33 1232.5v-13.2M1334.33 742.7v13.2M1000.2 1232.5v-8.8M1000.2 742.7v8.8M1034.83 1232.5v-8.8M1034.83 742.7v8.8M1059.41 1232.5v-8.8M1059.41 742.7v8.8M1078.46 1232.5v-8.8M1078.46 742.7v8.8M1094.04 1232.5v-8.8M1094.04 742.7v8.8M1107.2 1232.5v-8.8M1107.2 742.7v8.8M1118.61 1232.5v-8.8M1118.61 742.7v8.8M1128.67 1232.5v-8.8M1128.67 742.7v8.8M1196.87 1232.5v-8.8M1196.87 742.7v8.8M1231.5 1232.5v-8.8M1231.5 742.7v8.8M1256.07 1232.5v-8.8M1256.07 742.7v8.8M1275.13 1232.5v-8.8M1275.13 742.7v8.8M1290.7 1232.5v-8.8M1290.7 742.7v8.8M1303.87 1232.5v-8.8M1303.87 742.7v8.8M1315.27 1232.5v-8.8M1315.27 742.7v8.8M1325.33 1232.5v-8.8M1325.33 742.7v8.8M1393.54 1232.5v-8.8M1393.54 742.7v8.8M1428.17 1232.5v-8.8M1428.17 742.7v8.8M1452.74 1232.5v-8.8M1452.74 742.7v8.8M1471.8 1232.5v-8.8M1471.8 742.7v8.8M1487.37 1232.5v-8.8M1487.37 742.7v8.8M1500.54 1232.5v-8.8M1500.54 742.7v8.8M1511.94 1232.5v-8.8M1511.94 742.7v8.8M1522 1232.5v-8.8M1522 742.7v8.8M941 987.6h13.2M1531 987.6h-13.2" stroke="#6c6c6c" stroke-width="0.65" fill="none"/>
<rect x="941" y="742.7" width="590" height="489.8" fill="none" stroke="#000" stroke-width="1.4"/>
<polyline points="938.8,967.3 940.2,969.2 941.5,971.1 942.8,973.1 944.1,975.1 945.4,977.1 946.8,979.1 948.1,981.2 949.4,983.3 950.7,985.4 952.0,987.6 953.4,989.7 954.7,991.9 956.0,994.2 957.3,996.4 958.6,998.6 960.0,1000.9 961.3,1003.2 962.6,1005.4 963.9,1007.7 965.3,1009.9 966.6,1012.2 967.9,1014.4 969.2,1016.6 970.5,1018.8 971.9,1021.0 973.2,1023.2 974.5,1025.4 975.8,1027.6 977.1,1029.7 978.5,1031.8 979.8,1033.9 981.1,1036.0 982.4,1038.0 983.7,1040.0 985.1,1042.0 986.4,1043.9 987.7,1045.8 989.0,1047.7 990.3,1049.5 991.7,1051.3 993.0,1053.1 994.3,1054.8 995.6,1056.5 997.0,1058.1 998.3,1059.7 999.6,1061.2 1000.9,1062.7 1002.2,1064.2 1003.6,1065.7 1004.9,1067.1 1006.2,1068.5 1007.5,1069.9 1008.8,1071.2 1010.2,1072.5 1011.5,1073.9 1012.8,1075.2 1014.1,1076.4 1015.4,1077.7 1016.8,1078.9 1018.1,1080.2 1019.4,1081.4 1020.7,1082.6 1022.0,1083.8 1023.4,1085.0 1024.7,1086.2 1026.0,1087.4 1027.3,1088.6 1028.6,1089.7 1030.0,1090.9 1031.3,1092.0 1032.6,1093.2 1033.9,1094.3 1035.3,1095.5 1036.6,1096.6 1037.9,1097.7 1039.2,1098.9 1040.5,1100.0 1041.9,1101.1 1043.2,1102.2 1044.5,1103.3 1045.8,1104.4 1047.1,1105.5 1048.5,1106.6 1049.8,1107.7 1051.1,1108.7 1052.4,1109.8 1053.7,1110.9 1055.1,1111.9 1056.4,1113.0 1057.7,1114.0 1059.0,1115.1 1060.3,1116.1 1061.7,1117.1 1063.0,1118.2 1064.3,1119.2 1065.6,1120.2 1066.9,1121.2 1068.3,1122.2 1069.6,1123.2 1070.9,1124.2 1072.2,1125.2 1073.6,1126.2 1074.9,1127.1 1076.2,1128.1 1077.5,1129.0 1078.8,1130.0 1080.2,1130.9 1081.5,1131.8 1082.8,1132.8 1084.1,1133.7 1085.4,1134.6 1086.8,1135.5 1088.1,1136.3 1089.4,1137.2 1090.7,1138.1 1092.0,1139.0 1093.4,1139.8 1094.7,1140.6 1096.0,1141.5 1097.3,1142.3 1098.6,1143.1 1100.0,1143.9 1101.3,1144.8 1102.6,1145.6 1103.9,1146.3 1105.3,1147.1 1106.6,1147.9 1107.9,1148.7 1109.2,1149.4 1110.5,1150.2 1111.9,1150.9 1113.2,1151.7 1114.5,1152.4 1115.8,1153.2 1117.1,1153.9 1118.5,1154.6 1119.8,1155.3 1121.1,1156.0 1122.4,1156.7 1123.7,1157.4 1125.1,1158.1 1126.4,1158.8 1127.7,1159.5 1129.0,1160.2 1130.3,1160.8 1131.7,1161.5 1133.0,1162.2 1134.3,1162.8 1135.6,1163.5 1136.9,1164.1 1138.3,1164.8 1139.6,1165.4 1140.9,1166.1 1142.2,1166.7 1143.6,1167.3 1144.9,1168.0 1146.2,1168.6 1147.5,1169.2 1148.8,1169.8 1150.2,1170.4 1151.5,1171.0 1152.8,1171.7 1154.1,1172.3 1155.4,1172.9 1156.8,1173.4 1158.1,1174.0 1159.4,1174.6 1160.7,1175.2 1162.0,1175.8 1163.4,1176.4 1164.7,1177.0 1166.0,1177.5 1167.3,1178.1 1168.6,1178.7 1170.0,1179.2 1171.3,1179.8 1172.6,1180.3 1173.9,1180.9 1175.3,1181.4 1176.6,1182.0 1177.9,1182.5 1179.2,1183.1 1180.5,1183.6 1181.9,1184.1 1183.2,1184.7 1184.5,1185.2 1185.8,1185.7 1187.1,1186.2 1188.5,1186.8 1189.8,1187.3 1191.1,1187.8 1192.4,1188.3 1193.7,1188.8 1195.1,1189.3 1196.4,1189.8 1197.7,1190.3 1199.0,1190.8 1200.3,1191.2 1201.7,1191.7 1203.0,1192.2 1204.3,1192.7 1205.6,1193.1 1206.9,1193.6 1208.3,1194.1 1209.6,1194.5 1210.9,1195.0 1212.2,1195.4 1213.6,1195.8 1214.9,1196.3 1216.2,1196.7 1217.5,1197.1 1218.8,1197.6 1220.2,1198.0 1221.5,1198.4 1222.8,1198.8 1224.1,1199.2 1225.4,1199.6 1226.8,1200.0 1228.1,1200.4 1229.4,1200.8 1230.7,1201.1 1232.0,1201.5 1233.4,1201.9 1234.7,1202.2 1236.0,1202.6 1237.3,1202.9 1238.6,1203.3 1240.0,1203.6 1241.3,1204.0 1242.6,1204.3 1243.9,1204.6 1245.2,1204.9 1246.6,1205.2 1247.9,1205.5 1249.2,1205.8 1250.5,1206.1 1251.9,1206.4 1253.2,1206.7 1254.5,1207.0 1255.8,1207.3 1257.1,1207.5 1258.5,1207.8 1259.8,1208.1 1261.1,1208.3 1262.4,1208.6 1263.7,1208.8 1265.1,1209.1 1266.4,1209.3 1267.7,1209.6 1269.0,1209.8 1270.3,1210.0 1271.7,1210.2 1273.0,1210.5 1274.3,1210.7 1275.6,1210.9 1276.9,1211.1 1278.3,1211.3 1279.6,1211.5 1280.9,1211.7 1282.2,1211.9 1283.6,1212.1 1284.9,1212.3 1286.2,1212.5 1287.5,1212.6 1288.8,1212.8 1290.2,1213.0 1291.5,1213.2 1292.8,1213.4 1294.1,1213.5 1295.4,1213.7 1296.8,1213.9 1298.1,1214.0 1299.4,1214.2 1300.7,1214.3 1302.0,1214.5 1303.4,1214.7 1304.7,1214.8 1306.0,1215.0 1307.3,1215.1 1308.6,1215.3 1310.0,1215.4 1311.3,1215.5 1312.6,1215.7 1313.9,1215.8 1315.2,1216.0 1316.6,1216.1 1317.9,1216.2 1319.2,1216.4 1320.5,1216.5 1321.9,1216.6 1323.2,1216.8 1324.5,1216.9 1325.8,1217.0 1327.1,1217.2 1328.5,1217.3 1329.8,1217.4 1331.1,1217.5 1332.4,1217.7 1333.7,1217.8 1335.1,1217.9 1336.4,1218.0 1337.7,1218.1 1339.0,1218.3 1340.3,1218.4 1341.7,1218.5 1343.0,1218.6 1344.3,1218.7 1345.6,1218.8 1346.9,1218.9 1348.3,1219.1 1349.6,1219.2 1350.9,1219.3 1352.2,1219.4 1353.5,1219.5 1354.9,1219.6 1356.2,1219.7 1357.5,1219.8 1358.8,1219.9 1360.2,1220.1 1361.5,1220.2 1362.8,1220.3 1364.1,1220.4 1365.4,1220.5 1366.8,1220.6 1368.1,1220.7 1369.4,1220.8 1370.7,1220.9 1372.0,1221.0 1373.4,1221.1 1374.7,1221.2 1376.0,1221.3 1377.3,1221.4 1378.6,1221.5 1380.0,1221.6 1381.3,1221.7 1382.6,1221.9 1383.9,1222.0 1385.2,1222.1 1386.6,1222.2 1387.9,1222.3 1389.2,1222.4 1390.5,1222.5 1391.9,1222.6 1393.2,1222.7 1394.5,1222.8 1395.8,1222.9 1397.1,1223.0 1398.5,1223.1 1399.8,1223.2 1401.1,1223.3 1402.4,1223.4 1403.7,1223.5 1405.1,1223.6 1406.4,1223.7 1407.7,1223.8 1409.0,1223.9 1410.3,1224.0 1411.7,1224.1 1413.0,1224.2 1414.3,1224.3 1415.6,1224.4 1416.9,1224.5 1418.3,1224.6 1419.6,1224.7 1420.9,1224.8 1422.2,1224.9 1423.5,1225.0 1424.9,1225.1 1426.2,1225.2 1427.5,1225.3 1428.8,1225.4 1430.2,1225.5 1431.5,1225.6 1432.8,1225.7 1434.1,1225.8 1435.4,1225.8 1436.8,1225.9 1438.1,1226.0 1439.4,1226.1 1440.7,1226.2 1442.0,1226.3 1443.4,1226.4 1444.7,1226.5 1446.0,1226.5 1447.3,1226.6 1448.6,1226.7 1450.0,1226.8 1451.3,1226.9 1452.6,1226.9 1453.9,1227.0 1455.2,1227.1 1456.6,1227.2 1457.9,1227.3 1459.2,1227.3 1460.5,1227.4 1461.9,1227.5 1463.2,1227.6 1464.5,1227.6 1465.8,1227.7 1467.1,1227.8 1468.5,1227.8 1469.8,1227.9 1471.1,1228.0 1472.4,1228.0 1473.7,1228.1 1475.1,1228.2 1476.4,1228.2 1477.7,1228.3 1479.0,1228.4 1480.3,1228.4 1481.7,1228.5 1483.0,1228.6 1484.3,1228.6 1485.6,1228.7 1486.9,1228.8 1488.3,1228.8 1489.6,1228.9 1490.9,1228.9 1492.2,1229.0 1493.5,1229.1 1494.9,1229.1 1496.2,1229.2 1497.5,1229.2 1498.8,1229.3 1500.2,1229.4 1501.5,1229.4 1502.8,1229.5 1504.1,1229.5 1505.4,1229.6 1506.8,1229.7 1508.1,1229.7 1509.4,1229.8 1510.7,1229.8 1512.0,1229.9 1513.4,1229.9 1514.7,1230.0 1516.0,1230.0 1517.3,1230.1 1518.6,1230.2 1520.0,1230.2 1521.3,1230.3 1522.6,1230.3 1523.9,1230.4 1525.2,1230.4 1526.6,1230.5 1527.9,1230.5 1529.2,1230.6 1530.5,1230.6 1531.8,1230.7" fill="none" stroke="#bf8040" stroke-width="3.7" stroke-linejoin="round" clip-path="url(#cd)"/>
<polyline points="938.8,907.3 940.2,909.1 941.5,911.0 942.8,912.9 944.1,914.8 945.4,916.8 946.8,918.8 948.1,920.8 949.4,922.9 950.7,925.0 952.0,927.1 953.4,929.3 954.7,931.4 956.0,933.6 957.3,935.8 958.6,938.0 960.0,940.2 961.3,942.5 962.6,944.7 963.9,946.9 965.3,949.2 966.6,951.4 967.9,953.7 969.2,955.9 970.5,958.1 971.9,960.4 973.2,962.7 974.5,964.9 975.8,967.2 977.1,969.5 978.5,971.9 979.8,974.2 981.1,976.5 982.4,978.9 983.7,981.2 985.1,983.6 986.4,985.9 987.7,988.2 989.0,990.5 990.3,992.7 991.7,994.9 993.0,997.0 994.3,999.0 995.6,1001.1 997.0,1003.0 998.3,1004.9 999.6,1006.7 1000.9,1008.5 1002.2,1010.3 1003.6,1012.0 1004.9,1013.7 1006.2,1015.4 1007.5,1017.0 1008.8,1018.6 1010.2,1020.2 1011.5,1021.7 1012.8,1023.3 1014.1,1024.8 1015.4,1026.3 1016.8,1027.8 1018.1,1029.3 1019.4,1030.8 1020.7,1032.3 1022.0,1033.7 1023.4,1035.2 1024.7,1036.7 1026.0,1038.1 1027.3,1039.6 1028.6,1041.0 1030.0,1042.4 1031.3,1043.9 1032.6,1045.3 1033.9,1046.8 1035.3,1048.2 1036.6,1049.6 1037.9,1051.0 1039.2,1052.5 1040.5,1053.9 1041.9,1055.3 1043.2,1056.7 1044.5,1058.1 1045.8,1059.5 1047.1,1060.9 1048.5,1062.3 1049.8,1063.7 1051.1,1065.1 1052.4,1066.5 1053.7,1067.9 1055.1,1069.3 1056.4,1070.7 1057.7,1072.1 1059.0,1073.5 1060.3,1074.8 1061.7,1076.2 1063.0,1077.6 1064.3,1078.9 1065.6,1080.3 1066.9,1081.6 1068.3,1083.0 1069.6,1084.3 1070.9,1085.7 1072.2,1087.0 1073.6,1088.3 1074.9,1089.6 1076.2,1090.9 1077.5,1092.2 1078.8,1093.5 1080.2,1094.8 1081.5,1096.1 1082.8,1097.4 1084.1,1098.6 1085.4,1099.9 1086.8,1101.1 1088.1,1102.4 1089.4,1103.6 1090.7,1104.8 1092.0,1106.0 1093.4,1107.2 1094.7,1108.4 1096.0,1109.6 1097.3,1110.8 1098.6,1111.9 1100.0,1113.1 1101.3,1114.2 1102.6,1115.3 1103.9,1116.5 1105.3,1117.6 1106.6,1118.7 1107.9,1119.8 1109.2,1120.9 1110.5,1121.9 1111.9,1123.0 1113.2,1124.1 1114.5,1125.1 1115.8,1126.2 1117.1,1127.2 1118.5,1128.2 1119.8,1129.2 1121.1,1130.2 1122.4,1131.2 1123.7,1132.2 1125.1,1133.2 1126.4,1134.2 1127.7,1135.1 1129.0,1136.1 1130.3,1137.0 1131.7,1137.9 1133.0,1138.9 1134.3,1139.8 1135.6,1140.7 1136.9,1141.6 1138.3,1142.5 1139.6,1143.3 1140.9,1144.2 1142.2,1145.1 1143.6,1145.9 1144.9,1146.7 1146.2,1147.6 1147.5,1148.4 1148.8,1149.2 1150.2,1150.0 1151.5,1150.8 1152.8,1151.6 1154.1,1152.3 1155.4,1153.1 1156.8,1153.9 1158.1,1154.6 1159.4,1155.3 1160.7,1156.1 1162.0,1156.8 1163.4,1157.5 1164.7,1158.2 1166.0,1158.9 1167.3,1159.5 1168.6,1160.2 1170.0,1160.9 1171.3,1161.5 1172.6,1162.2 1173.9,1162.8 1175.3,1163.4 1176.6,1164.1 1177.9,1164.7 1179.2,1165.3 1180.5,1165.9 1181.9,1166.4 1183.2,1167.0 1184.5,1167.6 1185.8,1168.1 1187.1,1168.7 1188.5,1169.2 1189.8,1169.8 1191.1,1170.3 1192.4,1170.8 1193.7,1171.3 1195.1,1171.9 1196.4,1172.4 1197.7,1172.9 1199.0,1173.3 1200.3,1173.8 1201.7,1174.3 1203.0,1174.8 1204.3,1175.2 1205.6,1175.7 1206.9,1176.1 1208.3,1176.6 1209.6,1177.0 1210.9,1177.5 1212.2,1177.9 1213.6,1178.3 1214.9,1178.7 1216.2,1179.1 1217.5,1179.5 1218.8,1180.0 1220.2,1180.4 1221.5,1180.7 1222.8,1181.1 1224.1,1181.5 1225.4,1181.9 1226.8,1182.3 1228.1,1182.7 1229.4,1183.1 1230.7,1183.4 1232.0,1183.8 1233.4,1184.2 1234.7,1184.5 1236.0,1184.9 1237.3,1185.3 1238.6,1185.6 1240.0,1186.0 1241.3,1186.3 1242.6,1186.7 1243.9,1187.0 1245.2,1187.4 1246.6,1187.7 1247.9,1188.1 1249.2,1188.4 1250.5,1188.8 1251.9,1189.1 1253.2,1189.4 1254.5,1189.8 1255.8,1190.1 1257.1,1190.5 1258.5,1190.8 1259.8,1191.1 1261.1,1191.5 1262.4,1191.8 1263.7,1192.1 1265.1,1192.4 1266.4,1192.8 1267.7,1193.1 1269.0,1193.4 1270.3,1193.7 1271.7,1194.1 1273.0,1194.4 1274.3,1194.7 1275.6,1195.0 1276.9,1195.3 1278.3,1195.6 1279.6,1195.9 1280.9,1196.3 1282.2,1196.6 1283.6,1196.9 1284.9,1197.2 1286.2,1197.5 1287.5,1197.8 1288.8,1198.1 1290.2,1198.4 1291.5,1198.7 1292.8,1199.0 1294.1,1199.3 1295.4,1199.6 1296.8,1199.9 1298.1,1200.1 1299.4,1200.4 1300.7,1200.7 1302.0,1201.0 1303.4,1201.3 1304.7,1201.6 1306.0,1201.9 1307.3,1202.1 1308.6,1202.4 1310.0,1202.7 1311.3,1203.0 1312.6,1203.2 1313.9,1203.5 1315.2,1203.8 1316.6,1204.0 1317.9,1204.3 1319.2,1204.6 1320.5,1204.8 1321.9,1205.1 1323.2,1205.4 1324.5,1205.6 1325.8,1205.9 1327.1,1206.1 1328.5,1206.4 1329.8,1206.6 1331.1,1206.9 1332.4,1207.1 1333.7,1207.4 1335.1,1207.6 1336.4,1207.9 1337.7,1208.1 1339.0,1208.4 1340.3,1208.6 1341.7,1208.9 1343.0,1209.1 1344.3,1209.3 1345.6,1209.6 1346.9,1209.8 1348.3,1210.0 1349.6,1210.3 1350.9,1210.5 1352.2,1210.7 1353.5,1211.0 1354.9,1211.2 1356.2,1211.4 1357.5,1211.6 1358.8,1211.9 1360.2,1212.1 1361.5,1212.3 1362.8,1212.5 1364.1,1212.7 1365.4,1213.0 1366.8,1213.2 1368.1,1213.4 1369.4,1213.6 1370.7,1213.8 1372.0,1214.0 1373.4,1214.2 1374.7,1214.4 1376.0,1214.6 1377.3,1214.8 1378.6,1215.0 1380.0,1215.2 1381.3,1215.4 1382.6,1215.6 1383.9,1215.8 1385.2,1215.9 1386.6,1216.1 1387.9,1216.3 1389.2,1216.5 1390.5,1216.7 1391.9,1216.8 1393.2,1217.0 1394.5,1217.2 1395.8,1217.3 1397.1,1217.5 1398.5,1217.7 1399.8,1217.8 1401.1,1218.0 1402.4,1218.1 1403.7,1218.3 1405.1,1218.4 1406.4,1218.6 1407.7,1218.7 1409.0,1218.9 1410.3,1219.0 1411.7,1219.2 1413.0,1219.3 1414.3,1219.4 1415.6,1219.6 1416.9,1219.7 1418.3,1219.8 1419.6,1220.0 1420.9,1220.1 1422.2,1220.2 1423.5,1220.4 1424.9,1220.5 1426.2,1220.6 1427.5,1220.7 1428.8,1220.8 1430.2,1221.0 1431.5,1221.1 1432.8,1221.2 1434.1,1221.3 1435.4,1221.4 1436.8,1221.5 1438.1,1221.6 1439.4,1221.7 1440.7,1221.9 1442.0,1222.0 1443.4,1222.1 1444.7,1222.2 1446.0,1222.3 1447.3,1222.4 1448.6,1222.5 1450.0,1222.6 1451.3,1222.7 1452.6,1222.8 1453.9,1222.9 1455.2,1223.0 1456.6,1223.0 1457.9,1223.1 1459.2,1223.2 1460.5,1223.3 1461.9,1223.4 1463.2,1223.5 1464.5,1223.6 1465.8,1223.7 1467.1,1223.8 1468.5,1223.8 1469.8,1223.9 1471.1,1224.0 1472.4,1224.1 1473.7,1224.2 1475.1,1224.2 1476.4,1224.3 1477.7,1224.4 1479.0,1224.5 1480.3,1224.6 1481.7,1224.6 1483.0,1224.7 1484.3,1224.8 1485.6,1224.9 1486.9,1224.9 1488.3,1225.0 1489.6,1225.1 1490.9,1225.1 1492.2,1225.2 1493.5,1225.3 1494.9,1225.3 1496.2,1225.4 1497.5,1225.5 1498.8,1225.5 1500.2,1225.6 1501.5,1225.7 1502.8,1225.7 1504.1,1225.8 1505.4,1225.9 1506.8,1225.9 1508.1,1226.0 1509.4,1226.1 1510.7,1226.1 1512.0,1226.2 1513.4,1226.2 1514.7,1226.3 1516.0,1226.4 1517.3,1226.4 1518.6,1226.5 1520.0,1226.6 1521.3,1226.6 1522.6,1226.7 1523.9,1226.7 1525.2,1226.8 1526.6,1226.9 1527.9,1226.9 1529.2,1227.0 1530.5,1227.0 1531.8,1227.1" fill="none" stroke="#377eb8" stroke-width="3.7" stroke-linejoin="round" clip-path="url(#cd)"/>
<polyline points="938.8,806.1 940.2,808.3 941.5,810.5 942.8,812.8 944.1,815.1 945.4,817.4 946.8,819.8 948.1,822.2 949.4,824.6 950.7,827.1 952.0,829.6 953.4,832.2 954.7,834.8 956.0,837.3 957.3,839.9 958.6,842.5 960.0,845.1 961.3,847.7 962.6,850.3 963.9,852.9 965.3,855.5 966.6,858.0 967.9,860.6 969.2,863.1 970.5,865.6 971.9,868.2 973.2,870.7 974.5,873.2 975.8,875.8 977.1,878.3 978.5,880.9 979.8,883.4 981.1,886.0 982.4,888.5 983.7,891.1 985.1,893.7 986.4,896.2 987.7,898.7 989.0,901.2 990.3,903.7 991.7,906.1 993.0,908.5 994.3,910.8 995.6,913.1 997.0,915.3 998.3,917.5 999.6,919.7 1000.9,921.8 1002.2,923.9 1003.6,926.0 1004.9,928.1 1006.2,930.1 1007.5,932.1 1008.8,934.1 1010.2,936.1 1011.5,938.0 1012.8,940.0 1014.1,941.9 1015.4,943.8 1016.8,945.7 1018.1,947.6 1019.4,949.5 1020.7,951.4 1022.0,953.3 1023.4,955.1 1024.7,957.0 1026.0,958.8 1027.3,960.7 1028.6,962.5 1030.0,964.4 1031.3,966.2 1032.6,968.0 1033.9,969.9 1035.3,971.7 1036.6,973.5 1037.9,975.3 1039.2,977.1 1040.5,978.9 1041.9,980.7 1043.2,982.5 1044.5,984.2 1045.8,986.0 1047.1,987.8 1048.5,989.5 1049.8,991.2 1051.1,993.0 1052.4,994.7 1053.7,996.4 1055.1,998.1 1056.4,999.8 1057.7,1001.5 1059.0,1003.2 1060.3,1004.8 1061.7,1006.5 1063.0,1008.1 1064.3,1009.8 1065.6,1011.4 1066.9,1013.0 1068.3,1014.6 1069.6,1016.2 1070.9,1017.7 1072.2,1019.3 1073.6,1020.8 1074.9,1022.4 1076.2,1023.9 1077.5,1025.4 1078.8,1026.9 1080.2,1028.4 1081.5,1029.8 1082.8,1031.3 1084.1,1032.7 1085.4,1034.2 1086.8,1035.6 1088.1,1037.0 1089.4,1038.4 1090.7,1039.8 1092.0,1041.1 1093.4,1042.5 1094.7,1043.8 1096.0,1045.2 1097.3,1046.5 1098.6,1047.8 1100.0,1049.1 1101.3,1050.4 1102.6,1051.7 1103.9,1052.9 1105.3,1054.2 1106.6,1055.4 1107.9,1056.6 1109.2,1057.9 1110.5,1059.1 1111.9,1060.3 1113.2,1061.5 1114.5,1062.7 1115.8,1063.8 1117.1,1065.0 1118.5,1066.1 1119.8,1067.3 1121.1,1068.4 1122.4,1069.5 1123.7,1070.7 1125.1,1071.8 1126.4,1072.9 1127.7,1074.0 1129.0,1075.1 1130.3,1076.1 1131.7,1077.2 1133.0,1078.3 1134.3,1079.3 1135.6,1080.4 1136.9,1081.4 1138.3,1082.5 1139.6,1083.5 1140.9,1084.5 1142.2,1085.6 1143.6,1086.6 1144.9,1087.6 1146.2,1088.6 1147.5,1089.6 1148.8,1090.6 1150.2,1091.6 1151.5,1092.6 1152.8,1093.5 1154.1,1094.5 1155.4,1095.5 1156.8,1096.4 1158.1,1097.4 1159.4,1098.3 1160.7,1099.3 1162.0,1100.2 1163.4,1101.2 1164.7,1102.1 1166.0,1103.0 1167.3,1103.9 1168.6,1104.8 1170.0,1105.8 1171.3,1106.7 1172.6,1107.6 1173.9,1108.5 1175.3,1109.3 1176.6,1110.2 1177.9,1111.1 1179.2,1112.0 1180.5,1112.9 1181.9,1113.7 1183.2,1114.6 1184.5,1115.4 1185.8,1116.3 1187.1,1117.1 1188.5,1118.0 1189.8,1118.8 1191.1,1119.6 1192.4,1120.5 1193.7,1121.3 1195.1,1122.1 1196.4,1122.9 1197.7,1123.7 1199.0,1124.5 1200.3,1125.3 1201.7,1126.1 1203.0,1126.9 1204.3,1127.7 1205.6,1128.5 1206.9,1129.2 1208.3,1130.0 1209.6,1130.8 1210.9,1131.5 1212.2,1132.3 1213.6,1133.0 1214.9,1133.7 1216.2,1134.5 1217.5,1135.2 1218.8,1135.9 1220.2,1136.6 1221.5,1137.4 1222.8,1138.1 1224.1,1138.8 1225.4,1139.5 1226.8,1140.2 1228.1,1140.8 1229.4,1141.5 1230.7,1142.2 1232.0,1142.9 1233.4,1143.5 1234.7,1144.2 1236.0,1144.9 1237.3,1145.5 1238.6,1146.2 1240.0,1146.8 1241.3,1147.4 1242.6,1148.1 1243.9,1148.7 1245.2,1149.3 1246.6,1149.9 1247.9,1150.5 1249.2,1151.1 1250.5,1151.7 1251.9,1152.3 1253.2,1152.9 1254.5,1153.5 1255.8,1154.1 1257.1,1154.7 1258.5,1155.3 1259.8,1155.8 1261.1,1156.4 1262.4,1157.0 1263.7,1157.5 1265.1,1158.1 1266.4,1158.6 1267.7,1159.2 1269.0,1159.7 1270.3,1160.2 1271.7,1160.8 1273.0,1161.3 1274.3,1161.8 1275.6,1162.3 1276.9,1162.8 1278.3,1163.4 1279.6,1163.9 1280.9,1164.4 1282.2,1164.9 1283.6,1165.4 1284.9,1165.9 1286.2,1166.3 1287.5,1166.8 1288.8,1167.3 1290.2,1167.8 1291.5,1168.2 1292.8,1168.7 1294.1,1169.2 1295.4,1169.6 1296.8,1170.1 1298.1,1170.6 1299.4,1171.0 1300.7,1171.5 1302.0,1171.9 1303.4,1172.3 1304.7,1172.8 1306.0,1173.2 1307.3,1173.6 1308.6,1174.1 1310.0,1174.5 1311.3,1174.9 1312.6,1175.3 1313.9,1175.8 1315.2,1176.2 1316.6,1176.6 1317.9,1177.0 1319.2,1177.4 1320.5,1177.8 1321.9,1178.2 1323.2,1178.6 1324.5,1179.0 1325.8,1179.4 1327.1,1179.8 1328.5,1180.2 1329.8,1180.6 1331.1,1180.9 1332.4,1181.3 1333.7,1181.7 1335.1,1182.1 1336.4,1182.5 1337.7,1182.9 1339.0,1183.2 1340.3,1183.6 1341.7,1184.0 1343.0,1184.3 1344.3,1184.7 1345.6,1185.1 1346.9,1185.5 1348.3,1185.8 1349.6,1186.2 1350.9,1186.5 1352.2,1186.9 1353.5,1187.3 1354.9,1187.6 1356.2,1188.0 1357.5,1188.3 1358.8,1188.7 1360.2,1189.1 1361.5,1189.4 1362.8,1189.8 1364.1,1190.1 1365.4,1190.5 1366.8,1190.8 1368.1,1191.2 1369.4,1191.5 1370.7,1191.9 1372.0,1192.2 1373.4,1192.6 1374.7,1192.9 1376.0,1193.2 1377.3,1193.6 1378.6,1193.9 1380.0,1194.2 1381.3,1194.6 1382.6,1194.9 1383.9,1195.2 1385.2,1195.6 1386.6,1195.9 1387.9,1196.2 1389.2,1196.5 1390.5,1196.8 1391.9,1197.2 1393.2,1197.5 1394.5,1197.8 1395.8,1198.1 1397.1,1198.4 1398.5,1198.7 1399.8,1199.0 1401.1,1199.3 1402.4,1199.6 1403.7,1199.9 1405.1,1200.2 1406.4,1200.5 1407.7,1200.8 1409.0,1201.1 1410.3,1201.4 1411.7,1201.6 1413.0,1201.9 1414.3,1202.2 1415.6,1202.5 1416.9,1202.7 1418.3,1203.0 1419.6,1203.3 1420.9,1203.5 1422.2,1203.8 1423.5,1204.1 1424.9,1204.3 1426.2,1204.6 1427.5,1204.8 1428.8,1205.1 1430.2,1205.3 1431.5,1205.6 1432.8,1205.8 1434.1,1206.1 1435.4,1206.3 1436.8,1206.5 1438.1,1206.8 1439.4,1207.0 1440.7,1207.2 1442.0,1207.4 1443.4,1207.7 1444.7,1207.9 1446.0,1208.1 1447.3,1208.3 1448.6,1208.5 1450.0,1208.8 1451.3,1209.0 1452.6,1209.2 1453.9,1209.4 1455.2,1209.6 1456.6,1209.8 1457.9,1210.0 1459.2,1210.2 1460.5,1210.4 1461.9,1210.6 1463.2,1210.8 1464.5,1211.0 1465.8,1211.2 1467.1,1211.4 1468.5,1211.6 1469.8,1211.7 1471.1,1211.9 1472.4,1212.1 1473.7,1212.3 1475.1,1212.5 1476.4,1212.6 1477.7,1212.8 1479.0,1213.0 1480.3,1213.2 1481.7,1213.4 1483.0,1213.5 1484.3,1213.7 1485.6,1213.9 1486.9,1214.0 1488.3,1214.2 1489.6,1214.4 1490.9,1214.5 1492.2,1214.7 1493.5,1214.9 1494.9,1215.0 1496.2,1215.2 1497.5,1215.4 1498.8,1215.5 1500.2,1215.7 1501.5,1215.8 1502.8,1216.0 1504.1,1216.2 1505.4,1216.3 1506.8,1216.5 1508.1,1216.6 1509.4,1216.8 1510.7,1216.9 1512.0,1217.1 1513.4,1217.3 1514.7,1217.4 1516.0,1217.6 1517.3,1217.7 1518.6,1217.9 1520.0,1218.0 1521.3,1218.2 1522.6,1218.3 1523.9,1218.5 1525.2,1218.6 1526.6,1218.8 1527.9,1219.0 1529.2,1219.1 1530.5,1219.3 1531.8,1219.4" fill="none" stroke="#4daf4a" stroke-width="3.7" stroke-linejoin="round" clip-path="url(#cd)"/>
<polyline points="938.8,747.6 940.2,749.9 941.5,752.3 942.8,754.6 944.1,757.1 945.4,759.5 946.8,762.0 948.1,764.6 949.4,767.2 950.7,769.8 952.0,772.4 953.4,775.1 954.7,777.8 956.0,780.5 957.3,783.2 958.6,786.0 960.0,788.7 961.3,791.4 962.6,794.2 963.9,796.9 965.3,799.5 966.6,802.2 967.9,804.9 969.2,807.5 970.5,810.2 971.9,812.8 973.2,815.4 974.5,818.1 975.8,820.7 977.1,823.4 978.5,826.1 979.8,828.8 981.1,831.5 982.4,834.2 983.7,836.9 985.1,839.6 986.4,842.3 987.7,845.0 989.0,847.7 990.3,850.4 991.7,853.0 993.0,855.6 994.3,858.2 995.6,860.7 997.0,863.2 998.3,865.7 999.6,868.1 1000.9,870.5 1002.2,872.9 1003.6,875.2 1004.9,877.5 1006.2,879.8 1007.5,882.0 1008.8,884.2 1010.2,886.4 1011.5,888.5 1012.8,890.6 1014.1,892.6 1015.4,894.6 1016.8,896.6 1018.1,898.6 1019.4,900.6 1020.7,902.5 1022.0,904.4 1023.4,906.3 1024.7,908.2 1026.0,910.0 1027.3,911.9 1028.6,913.7 1030.0,915.6 1031.3,917.4 1032.6,919.2 1033.9,921.0 1035.3,922.8 1036.6,924.5 1037.9,926.3 1039.2,928.0 1040.5,929.8 1041.9,931.5 1043.2,933.2 1044.5,934.9 1045.8,936.7 1047.1,938.4 1048.5,940.0 1049.8,941.7 1051.1,943.4 1052.4,945.1 1053.7,946.7 1055.1,948.4 1056.4,950.0 1057.7,951.6 1059.0,953.3 1060.3,954.9 1061.7,956.5 1063.0,958.1 1064.3,959.7 1065.6,961.3 1066.9,962.8 1068.3,964.4 1069.6,966.0 1070.9,967.5 1072.2,969.1 1073.6,970.6 1074.9,972.1 1076.2,973.7 1077.5,975.2 1078.8,976.7 1080.2,978.2 1081.5,979.7 1082.8,981.1 1084.1,982.6 1085.4,984.1 1086.8,985.5 1088.1,987.0 1089.4,988.4 1090.7,989.8 1092.0,991.2 1093.4,992.7 1094.7,994.1 1096.0,995.4 1097.3,996.8 1098.6,998.2 1100.0,999.6 1101.3,1000.9 1102.6,1002.3 1103.9,1003.6 1105.3,1004.9 1106.6,1006.2 1107.9,1007.6 1109.2,1008.9 1110.5,1010.2 1111.9,1011.4 1113.2,1012.7 1114.5,1014.0 1115.8,1015.3 1117.1,1016.5 1118.5,1017.8 1119.8,1019.0 1121.1,1020.3 1122.4,1021.5 1123.7,1022.7 1125.1,1024.0 1126.4,1025.2 1127.7,1026.4 1129.0,1027.6 1130.3,1028.8 1131.7,1030.0 1133.0,1031.2 1134.3,1032.4 1135.6,1033.6 1136.9,1034.8 1138.3,1035.9 1139.6,1037.1 1140.9,1038.3 1142.2,1039.4 1143.6,1040.6 1144.9,1041.8 1146.2,1042.9 1147.5,1044.1 1148.8,1045.2 1150.2,1046.3 1151.5,1047.5 1152.8,1048.6 1154.1,1049.8 1155.4,1050.9 1156.8,1052.0 1158.1,1053.1 1159.4,1054.3 1160.7,1055.4 1162.0,1056.5 1163.4,1057.6 1164.7,1058.7 1166.0,1059.8 1167.3,1060.9 1168.6,1062.0 1170.0,1063.0 1171.3,1064.1 1172.6,1065.2 1173.9,1066.3 1175.3,1067.3 1176.6,1068.4 1177.9,1069.4 1179.2,1070.4 1180.5,1071.5 1181.9,1072.5 1183.2,1073.5 1184.5,1074.5 1185.8,1075.5 1187.1,1076.5 1188.5,1077.5 1189.8,1078.5 1191.1,1079.5 1192.4,1080.4 1193.7,1081.4 1195.1,1082.3 1196.4,1083.3 1197.7,1084.2 1199.0,1085.2 1200.3,1086.1 1201.7,1087.0 1203.0,1087.9 1204.3,1088.8 1205.6,1089.7 1206.9,1090.6 1208.3,1091.4 1209.6,1092.3 1210.9,1093.2 1212.2,1094.0 1213.6,1094.9 1214.9,1095.7 1216.2,1096.5 1217.5,1097.4 1218.8,1098.2 1220.2,1099.0 1221.5,1099.8 1222.8,1100.6 1224.1,1101.4 1225.4,1102.2 1226.8,1103.0 1228.1,1103.8 1229.4,1104.5 1230.7,1105.3 1232.0,1106.1 1233.4,1106.8 1234.7,1107.6 1236.0,1108.3 1237.3,1109.1 1238.6,1109.8 1240.0,1110.6 1241.3,1111.3 1242.6,1112.0 1243.9,1112.8 1245.2,1113.5 1246.6,1114.2 1247.9,1114.9 1249.2,1115.6 1250.5,1116.3 1251.9,1117.1 1253.2,1117.8 1254.5,1118.5 1255.8,1119.2 1257.1,1119.9 1258.5,1120.5 1259.8,1121.2 1261.1,1121.9 1262.4,1122.6 1263.7,1123.3 1265.1,1124.0 1266.4,1124.6 1267.7,1125.3 1269.0,1126.0 1270.3,1126.6 1271.7,1127.3 1273.0,1127.9 1274.3,1128.6 1275.6,1129.2 1276.9,1129.9 1278.3,1130.5 1279.6,1131.2 1280.9,1131.8 1282.2,1132.4 1283.6,1133.0 1284.9,1133.7 1286.2,1134.3 1287.5,1134.9 1288.8,1135.5 1290.2,1136.1 1291.5,1136.7 1292.8,1137.3 1294.1,1137.9 1295.4,1138.5 1296.8,1139.1 1298.1,1139.7 1299.4,1140.3 1300.7,1140.9 1302.0,1141.5 1303.4,1142.0 1304.7,1142.6 1306.0,1143.2 1307.3,1143.7 1308.6,1144.3 1310.0,1144.9 1311.3,1145.4 1312.6,1146.0 1313.9,1146.5 1315.2,1147.1 1316.6,1147.6 1317.9,1148.1 1319.2,1148.7 1320.5,1149.2 1321.9,1149.8 1323.2,1150.3 1324.5,1150.8 1325.8,1151.3 1327.1,1151.9 1328.5,1152.4 1329.8,1152.9 1331.1,1153.4 1332.4,1153.9 1333.7,1154.4 1335.1,1154.9 1336.4,1155.4 1337.7,1155.9 1339.0,1156.4 1340.3,1156.9 1341.7,1157.4 1343.0,1157.9 1344.3,1158.4 1345.6,1158.9 1346.9,1159.4 1348.3,1159.9 1349.6,1160.4 1350.9,1160.9 1352.2,1161.3 1353.5,1161.8 1354.9,1162.3 1356.2,1162.8 1357.5,1163.2 1358.8,1163.7 1360.2,1164.2 1361.5,1164.7 1362.8,1165.1 1364.1,1165.6 1365.4,1166.0 1366.8,1166.5 1368.1,1167.0 1369.4,1167.4 1370.7,1167.9 1372.0,1168.3 1373.4,1168.8 1374.7,1169.2 1376.0,1169.7 1377.3,1170.1 1378.6,1170.6 1380.0,1171.0 1381.3,1171.5 1382.6,1171.9 1383.9,1172.3 1385.2,1172.8 1386.6,1173.2 1387.9,1173.6 1389.2,1174.1 1390.5,1174.5 1391.9,1174.9 1393.2,1175.3 1394.5,1175.8 1395.8,1176.2 1397.1,1176.6 1398.5,1177.0 1399.8,1177.4 1401.1,1177.8 1402.4,1178.2 1403.7,1178.6 1405.1,1179.0 1406.4,1179.4 1407.7,1179.8 1409.0,1180.2 1410.3,1180.6 1411.7,1181.0 1413.0,1181.4 1414.3,1181.8 1415.6,1182.1 1416.9,1182.5 1418.3,1182.9 1419.6,1183.3 1420.9,1183.7 1422.2,1184.0 1423.5,1184.4 1424.9,1184.8 1426.2,1185.1 1427.5,1185.5 1428.8,1185.8 1430.2,1186.2 1431.5,1186.6 1432.8,1186.9 1434.1,1187.3 1435.4,1187.6 1436.8,1187.9 1438.1,1188.3 1439.4,1188.6 1440.7,1189.0 1442.0,1189.3 1443.4,1189.6 1444.7,1190.0 1446.0,1190.3 1447.3,1190.6 1448.6,1190.9 1450.0,1191.3 1451.3,1191.6 1452.6,1191.9 1453.9,1192.2 1455.2,1192.5 1456.6,1192.9 1457.9,1193.2 1459.2,1193.5 1460.5,1193.8 1461.9,1194.1 1463.2,1194.4 1464.5,1194.7 1465.8,1195.0 1467.1,1195.3 1468.5,1195.6 1469.8,1195.9 1471.1,1196.2 1472.4,1196.5 1473.7,1196.7 1475.1,1197.0 1476.4,1197.3 1477.7,1197.6 1479.0,1197.9 1480.3,1198.2 1481.7,1198.5 1483.0,1198.7 1484.3,1199.0 1485.6,1199.3 1486.9,1199.6 1488.3,1199.8 1489.6,1200.1 1490.9,1200.4 1492.2,1200.7 1493.5,1200.9 1494.9,1201.2 1496.2,1201.5 1497.5,1201.7 1498.8,1202.0 1500.2,1202.3 1501.5,1202.5 1502.8,1202.8 1504.1,1203.0 1505.4,1203.3 1506.8,1203.6 1508.1,1203.8 1509.4,1204.1 1510.7,1204.3 1512.0,1204.6 1513.4,1204.8 1514.7,1205.1 1516.0,1205.4 1517.3,1205.6 1518.6,1205.9 1520.0,1206.1 1521.3,1206.4 1522.6,1206.6 1523.9,1206.9 1525.2,1207.1 1526.6,1207.4 1527.9,1207.7 1529.2,1207.9 1530.5,1208.2 1531.8,1208.4" fill="none" stroke="#e41a1c" stroke-width="3.7" stroke-linejoin="round" clip-path="url(#cd)"/>
<text x="94.07" y="579.8" font-size="30.6">0</text>
<text transform="translate(69.67,470.87) scale(1.058,1.000)" font-size="30.6">0.1</text>
<text transform="translate(69.67,361.93) scale(1.054,1.000)" font-size="30.6">0.2</text>
<text transform="translate(69.69,253) scale(1.039,1.000)" font-size="30.6">0.3</text>
<text transform="translate(69.71,144.07) scale(1.019,1.000)" font-size="30.6">0.4</text>
<text x="112.35" y="599.6" font-size="30.6">0</text>
<text transform="translate(247.56,599.6) scale(1.039,1.000)" font-size="30.6">0.5</text>
<text x="406.77" y="599.6" font-size="30.6">1</text>
<text transform="translate(540.71,599.6) scale(1.085,1.000)" font-size="30.6">1.5</text>
<text x="702.22" y="599.6" font-size="30.6">2</text>
<text x="920.67" y="579.8" font-size="30.6">0</text>
<text transform="translate(896.27,439.74) scale(1.058,1.000)" font-size="30.6">0.1</text>
<text transform="translate(896.27,299.69) scale(1.054,1.000)" font-size="30.6">0.2</text>
<text transform="translate(896.29,159.63) scale(1.039,1.000)" font-size="30.6">0.3</text>
<text x="938.95" y="599.6" font-size="30.6">0</text>
<text x="1086.55" y="599.6" font-size="30.6">2</text>
<text x="1233.74" y="599.6" font-size="30.6">4</text>
<text x="1381.02" y="599.6" font-size="30.6">6</text>
<text x="1528.65" y="599.6" font-size="30.6">8</text>
<text x="94.07" y="1243.1" font-size="30.6">0</text>
<text transform="translate(69.67,1079.83) scale(1.058,1.000)" font-size="30.6">0.1</text>
<text transform="translate(69.67,916.57) scale(1.054,1.000)" font-size="30.6">0.2</text>
<text transform="translate(69.69,753.3) scale(1.039,1.000)" font-size="30.6">0.3</text>
<text x="112.35" y="1262.9" font-size="30.6">0</text>
<text x="259.35" y="1262.9" font-size="30.6">1</text>
<text x="407.37" y="1262.9" font-size="30.6">2</text>
<text x="554.49" y="1262.9" font-size="30.6">3</text>
<text x="701.99" y="1262.9" font-size="30.6">4</text>
<text x="915.07" y="1243.1" font-size="30.6">0</text>
<text transform="translate(890.67,998.2) scale(1.058,1.000)" font-size="30.6">0.1</text>
<text transform="translate(890.67,753.3) scale(1.054,1.000)" font-size="30.6">0.2</text>
<text transform="translate(918.42,1269) scale(1.013,1.000)" font-size="30.6">10</text>
<text transform="translate(948.78,1258.3) scale(1.123,1.000)" font-size="22.68">0</text>
<text transform="translate(1115.09,1269) scale(1.013,1.000)" font-size="30.6">10</text>
<text x="1145.62" y="1258.3" font-size="22.68">1</text>
<text transform="translate(1311.76,1269) scale(1.013,1.000)" font-size="30.6">10</text>
<text transform="translate(1341.9,1258.3) scale(1.188,1.000)" font-size="22.68">2</text>
<text transform="translate(1508.42,1269) scale(1.013,1.000)" font-size="30.6">10</text>
<text transform="translate(1538.5,1258.3) scale(1.153,1.000)" font-size="22.68">3</text>
<text transform="translate(405.88,646.49) scale(0.970,1.000)" font-size="37.26" font-style="italic">ζ</text>
<text transform="translate(1232.58,646.49) scale(0.970,1.000)" font-size="37.26" font-style="italic">ζ</text>
<text transform="translate(405.88,1309.69) scale(0.970,1.000)" font-size="37.26" font-style="italic">ζ</text>
<text transform="translate(1227.08,1315.09) scale(0.970,1.000)" font-size="37.26" font-style="italic">ζ</text>
<text transform="translate(141.59,544.91) scale(1.000,1.103)" font-size="36.7">(</text>
<text transform="translate(153.26,544.4) scale(1.147,1.000)" font-size="38.17">a</text>
<text transform="translate(172.32,544.91) scale(1.000,1.103)" font-size="36.7">)</text>
<text transform="translate(967.19,544.91) scale(1.000,1.103)" font-size="36.7">(</text>
<text transform="translate(980,544.4) scale(1.021,1.000)" font-size="38.17">b</text>
<text transform="translate(999.82,544.91) scale(1.000,1.103)" font-size="36.7">)</text>
<text transform="translate(142.79,1208.21) scale(1.000,1.103)" font-size="36.7">(</text>
<text transform="translate(155.02,1207.7) scale(0.950,1.000)" font-size="38.17">c</text>
<text transform="translate(171.22,1208.21) scale(1.000,1.103)" font-size="36.7">)</text>
<text transform="translate(962.39,1208.21) scale(1.000,1.103)" font-size="36.7">(</text>
<text transform="translate(973.43,1207.7) scale(1.137,1.000)" font-size="38.17">d</text>
<text transform="translate(994.82,1208.21) scale(1.000,1.103)" font-size="36.7">)</text>
<text transform="translate(224.79,43.11) scale(1.000,1.103)" font-size="36.7">(</text>
<text transform="translate(237.27,42.6) scale(1.096,1.000)" font-size="36.7" font-style="italic">γ</text>
<text transform="translate(254.38,48.2) scale(1.098,1.000)" font-size="24.5">0</text>
<text x="270.4" y="42.6" font-size="36.7">,</text>
<text transform="translate(285.93,42.6) scale(1.110,1.000)" font-size="36.7" font-style="italic">h</text>
<text transform="translate(305.98,48.2) scale(1.098,1.000)" font-size="24.5">0</text>
<text transform="translate(320.02,43.11) scale(1.000,1.103)" font-size="36.7">)</text>
<text transform="translate(335.22,40.9) scale(1.519,1.400)" font-size="36.7">→</text>
<text transform="translate(391.79,43.11) scale(1.000,1.103)" font-size="36.7">(</text>
<text transform="translate(404.05,42.6) scale(1.137,1.000)" font-size="36.7" font-style="italic">γ</text>
<text transform="translate(434.05,43.6) scale(1.452,0.900)" font-size="36.7">=</text>
<text x="473" y="42.6" font-size="36.7">0</text>
<text x="491.7" y="42.6" font-size="36.7">,</text>
<text transform="translate(506.73,42.6) scale(1.110,1.000)" font-size="36.7" font-style="italic">h</text>
<text transform="translate(535.65,43.6) scale(1.452,0.900)" font-size="36.7">=</text>
<text x="574.8" y="42.6" font-size="36.7">0</text>
<text transform="translate(593.72,43.11) scale(1.000,1.103)" font-size="36.7">)</text>
<text transform="translate(1036.89,43.11) scale(1.000,1.103)" font-size="36.7">(</text>
<text transform="translate(1049.37,42.6) scale(1.096,1.000)" font-size="36.7" font-style="italic">γ</text>
<text transform="translate(1066.48,48.2) scale(1.098,1.000)" font-size="24.5">0</text>
<text x="1082.5" y="42.6" font-size="36.7">,</text>
<text transform="translate(1098.03,42.6) scale(1.110,1.000)" font-size="36.7" font-style="italic">h</text>
<text transform="translate(1118.08,48.2) scale(1.098,1.000)" font-size="24.5">0</text>
<text transform="translate(1132.12,43.11) scale(1.000,1.103)" font-size="36.7">)</text>
<text transform="translate(1147.32,40.9) scale(1.519,1.400)" font-size="36.7">→</text>
<text transform="translate(1203.89,43.11) scale(1.000,1.103)" font-size="36.7">(</text>
<text transform="translate(1216.15,42.6) scale(1.137,1.000)" font-size="36.7" font-style="italic">γ</text>
<text transform="translate(1246.15,43.6) scale(1.452,0.900)" font-size="36.7">=</text>
<text x="1284.97" y="42.6" font-size="36.7">1</text>
<text x="1303.8" y="42.6" font-size="36.7">,</text>
<text transform="translate(1318.83,42.6) scale(1.110,1.000)" font-size="36.7" font-style="italic">h</text>
<text transform="translate(1347.75,43.6) scale(1.452,0.900)" font-size="36.7">=</text>
<text transform="translate(1387.62,42.6) scale(0.989,1.000)" font-size="36.7">0.2</text>
<text transform="translate(1432.72,43.11) scale(1.000,1.103)" font-size="36.7">)</text>
<text transform="translate(352.91,714.3) scale(1.245,1.000)" font-size="37.8">Δ</text>
<text transform="translate(392.11,715.3) scale(1.417,0.900)" font-size="36.7">=</text>
<text transform="translate(430.6,714.3) scale(0.999,1.000)" font-size="36.7">0.5</text>
<text transform="translate(1188.11,714.3) scale(1.245,1.000)" font-size="37.8">Δ</text>
<text transform="translate(1227.31,715.3) scale(1.417,0.900)" font-size="36.7">=</text>
<text x="1265.59" y="714.3" font-size="36.7">2</text>
<g transform="translate(40.6,475) rotate(-90)">
<text transform="translate(-1.61,0.51) scale(1.000,1.103)" font-size="36.7">(</text>
<text transform="translate(13.35,0) scale(0.944,1.000)" font-size="40.37" font-style="italic">S</text>
<text transform="translate(30.89,0.51) scale(1.000,1.103)" font-size="36.7">(</text>
<text transform="translate(50.21,0) scale(0.872,1.000)" font-size="36.7" font-style="italic">ρ</text>
<text transform="translate(64.74,5.6) scale(1.084,1.000)" font-size="24.5">d</text>
<text x="80.57" y="5.6" font-size="24.5">,</text>
<text transform="translate(91.71,5.6) scale(0.976,1.000)" font-size="24.5" font-style="italic">A</text>
<text transform="translate(106.12,0.51) scale(1.000,1.103)" font-size="36.7">)</text>
<text transform="translate(131.85,2.2) scale(1.288,1.000)" font-size="36.7">−</text>
<text transform="translate(169.05,0) scale(0.944,1.000)" font-size="40.37" font-style="italic">S</text>
<text transform="translate(189.09,0.51) scale(1.000,1.103)" font-size="36.7">(</text>
<text transform="translate(207.31,0) scale(0.872,1.000)" font-size="36.7" font-style="italic">ρ</text>
<text transform="translate(224.89,5.6) scale(1.037,1.000)" font-size="24.5" font-style="italic">A</text>
<text transform="translate(245.72,0.51) scale(1.000,1.103)" font-size="36.7">)</text>
<text transform="translate(259.62,0.51) scale(1.000,1.103)" font-size="36.7">)</text>
<text transform="translate(273.4,8) scale(1.608,1.360)" font-size="36.7">/</text>
<text transform="translate(290.44,0) scale(0.844,1.000)" font-size="38.17" font-style="italic">ℓ</text>
</g>
<g transform="translate(867.2,475) rotate(-90)">
<text transform="translate(-1.61,0.51) scale(1.000,1.103)" font-size="36.7">(</text>
<text transform="translate(13.35,0) scale(0.944,1.000)" font-size="40.37" font-style="italic">S</text>
<text transform="translate(30.89,0.51) scale(1.000,1.103)" font-size="36.7">(</text>
<text transform="translate(50.21,0) scale(0.872,1.000)" font-size="36.7" font-style="italic">ρ</text>
<text transform="translate(64.74,5.6) scale(1.084,1.000)" font-size="24.5">d</text>
<text x="80.57" y="5.6" font-size="24.5">,</text>
<text transform="translate(91.71,5.6) scale(0.976,1.000)" font-size="24.5" font-style="italic">A</text>
<text transform="translate(106.12,0.51) scale(1.000,1.103)" font-size="36.7">)</text>
<text transform="translate(131.85,2.2) scale(1.288,1.000)" font-size="36.7">−</text>
<text transform="translate(169.05,0) scale(0.944,1.000)" font-size="40.37" font-style="italic">S</text>
<text transform="translate(189.09,0.51) scale(1.000,1.103)" font-size="36.7">(</text>
<text transform="translate(207.31,0) scale(0.872,1.000)" font-size="36.7" font-style="italic">ρ</text>
<text transform="translate(224.89,5.6) scale(1.037,1.000)" font-size="24.5" font-style="italic">A</text>
<text transform="translate(245.72,0.51) scale(1.000,1.103)" font-size="36.7">)</text>
<text transform="translate(259.62,0.51) scale(1.000,1.103)" font-size="36.7">)</text>
<text transform="translate(273.4,8) scale(1.608,1.360)" font-size="36.7">/</text>
<text transform="translate(290.44,0) scale(0.844,1.000)" font-size="38.17" font-style="italic">ℓ</text>
</g>
<g transform="translate(40.6,1138.7) rotate(-90)">
<text transform="translate(-1.61,0.51) scale(1.000,1.103)" font-size="36.7">(</text>
<text transform="translate(13.35,0) scale(0.944,1.000)" font-size="40.37" font-style="italic">S</text>
<text transform="translate(30.89,0.51) scale(1.000,1.103)" font-size="36.7">(</text>
<text transform="translate(50.21,0) scale(0.872,1.000)" font-size="36.7" font-style="italic">ρ</text>
<text transform="translate(64.74,5.6) scale(1.084,1.000)" font-size="24.5">d</text>
<text x="80.57" y="5.6" font-size="24.5">,</text>
<text transform="translate(91.71,5.6) scale(0.976,1.000)" font-size="24.5" font-style="italic">A</text>
<text transform="translate(106.12,0.51) scale(1.000,1.103)" font-size="36.7">)</text>
<text transform="translate(131.85,2.2) scale(1.288,1.000)" font-size="36.7">−</text>
<text transform="translate(169.05,0) scale(0.944,1.000)" font-size="40.37" font-style="italic">S</text>
<text transform="translate(189.09,0.51) scale(1.000,1.103)" font-size="36.7">(</text>
<text transform="translate(207.31,0) scale(0.872,1.000)" font-size="36.7" font-style="italic">ρ</text>
<text transform="translate(224.89,5.6) scale(1.037,1.000)" font-size="24.5" font-style="italic">A</text>
<text transform="translate(245.72,0.51) scale(1.000,1.103)" font-size="36.7">)</text>
<text transform="translate(259.62,0.51) scale(1.000,1.103)" font-size="36.7">)</text>
<text transform="translate(273.4,8) scale(1.608,1.360)" font-size="36.7">/</text>
<text transform="translate(290.44,0) scale(0.844,1.000)" font-size="38.17" font-style="italic">ℓ</text>
</g>
<g transform="translate(861.6,1138.7) rotate(-90)">
<text transform="translate(-1.61,0.51) scale(1.000,1.103)" font-size="36.7">(</text>
<text transform="translate(13.35,0) scale(0.944,1.000)" font-size="40.37" font-style="italic">S</text>
<text transform="translate(30.89,0.51) scale(1.000,1.103)" font-size="36.7">(</text>
<text transform="translate(50.21,0) scale(0.872,1.000)" font-size="36.7" font-style="italic">ρ</text>
<text transform="translate(64.74,5.6) scale(1.084,1.000)" font-size="24.5">d</text>
<text x="80.57" y="5.6" font-size="24.5">,</text>
<text transform="translate(91.71,5.6) scale(0.976,1.000)" font-size="24.5" font-style="italic">A</text>
<text transform="translate(106.12,0.51) scale(1.000,1.103)" font-size="36.7">)</text>
<text transform="translate(131.85,2.2) scale(1.288,1.000)" font-size="36.7">−</text>
<text transform="translate(169.05,0) scale(0.944,1.000)" font-size="40.37" font-style="italic">S</text>
<text transform="translate(189.09,0.51) scale(1.000,1.103)" font-size="36.7">(</text>
<text transform="translate(207.31,0) scale(0.872,1.000)" font-size="36.7" font-style="italic">ρ</text>
<text transform="translate(224.89,5.6) scale(1.037,1.000)" font-size="24.5" font-style="italic">A</text>
<text transform="translate(245.72,0.51) scale(1.000,1.103)" font-size="36.7">)</text>
<text transform="translate(259.62,0.51) scale(1.000,1.103)" font-size="36.7">)</text>
<text transform="translate(273.4,8) scale(1.608,1.360)" font-size="36.7">/</text>
<text transform="translate(290.44,0) scale(0.844,1.000)" font-size="38.17" font-style="italic">ℓ</text>
</g>
<rect x="386.6" y="104.6" width="304.9" height="153.9" fill="#fff" stroke="#000" stroke-width="1.4"/>
<path d="M397.6 128.3h52" stroke="#4daf4a" stroke-width="3.7"/>
<text transform="translate(456.69,135.9) scale(1.220,1.000)" font-size="27.6" font-style="italic">γ</text>
<text transform="translate(471.34,140.1) scale(1.150,1.000)" font-size="19.69">0</text>
<text transform="translate(490.24,136.65) scale(1.573,0.900)" font-size="27.6">=</text>
<text transform="translate(521.08,135.9) scale(1.063,1.000)" font-size="27.6">0.5</text>
<text x="557.85" y="135.9" font-size="27.6">,</text>
<text transform="translate(574.62,135.9) scale(1.184,1.000)" font-size="27.6" font-style="italic">h</text>
<text transform="translate(590.94,140.1) scale(1.150,1.000)" font-size="19.69">0</text>
<text transform="translate(609.34,136.65) scale(1.573,0.900)" font-size="27.6">=</text>
<text transform="translate(638.98,135.9) scale(1.080,1.000)" font-size="27.6">1.2</text>
<path d="M397.6 163.83h52" stroke="#377eb8" stroke-width="3.7"/>
<text transform="translate(456.69,171.43) scale(1.220,1.000)" font-size="27.6" font-style="italic">γ</text>
<text transform="translate(471.34,175.63) scale(1.150,1.000)" font-size="19.69">0</text>
<text transform="translate(490.24,172.18) scale(1.573,0.900)" font-size="27.6">=</text>
<text transform="translate(521.09,171.43) scale(1.054,1.000)" font-size="27.6">0.6</text>
<text x="557.85" y="171.43" font-size="27.6">,</text>
<text transform="translate(574.62,171.43) scale(1.184,1.000)" font-size="27.6" font-style="italic">h</text>
<text transform="translate(590.94,175.63) scale(1.150,1.000)" font-size="19.69">0</text>
<text transform="translate(609.34,172.18) scale(1.573,0.900)" font-size="27.6">=</text>
<text transform="translate(639.08,171.43) scale(1.063,1.000)" font-size="27.6">0.5</text>
<path d="M397.6 199.36h52" stroke="#e41a1c" stroke-width="3.7"/>
<text transform="translate(456.69,206.96) scale(1.220,1.000)" font-size="27.6" font-style="italic">γ</text>
<text transform="translate(471.34,211.16) scale(1.150,1.000)" font-size="19.69">0</text>
<text transform="translate(490.24,207.71) scale(1.573,0.900)" font-size="27.6">=</text>
<text transform="translate(521.04,206.96) scale(1.056,1.000)" font-size="27.6">1.6</text>
<text x="557.85" y="206.96" font-size="27.6">,</text>
<text transform="translate(574.62,206.96) scale(1.184,1.000)" font-size="27.6" font-style="italic">h</text>
<text transform="translate(590.94,211.16) scale(1.150,1.000)" font-size="19.69">0</text>
<text transform="translate(609.34,207.71) scale(1.573,0.900)" font-size="27.6">=</text>
<text transform="translate(638.97,206.96) scale(1.085,1.000)" font-size="27.6">1.1</text>
<path d="M397.6 234.89h52" stroke="#bf8040" stroke-width="3.7"/>
<text transform="translate(456.69,242.49) scale(1.220,1.000)" font-size="27.6" font-style="italic">γ</text>
<text transform="translate(471.34,246.69) scale(1.150,1.000)" font-size="19.69">0</text>
<text transform="translate(490.24,243.24) scale(1.573,0.900)" font-size="27.6">=</text>
<text transform="translate(521.09,242.49) scale(1.054,1.000)" font-size="27.6">0.6</text>
<text x="557.85" y="242.49" font-size="27.6">,</text>
<text transform="translate(574.62,242.49) scale(1.184,1.000)" font-size="27.6" font-style="italic">h</text>
<text transform="translate(590.94,246.69) scale(1.150,1.000)" font-size="19.69">0</text>
<text transform="translate(609.34,243.24) scale(1.573,0.900)" font-size="27.6">=</text>
<text transform="translate(638.97,242.49) scale(1.085,1.000)" font-size="27.6">1.1</text>
<rect x="1234.5" y="104.6" width="283.6" height="153.9" fill="#fff" stroke="#000" stroke-width="1.4"/>
<path d="M1245.5 128.3h52" stroke="#4daf4a" stroke-width="3.7"/>
<text transform="translate(1304.59,135.9) scale(1.220,1.000)" font-size="27.6" font-style="italic">γ</text>
<text transform="translate(1319.24,140.1) scale(1.150,1.000)" font-size="19.69">0</text>
<text transform="translate(1338.14,136.65) scale(1.573,0.900)" font-size="27.6">=</text>
<text x="1369.07" y="135.9" font-size="27.6">1</text>
<text x="1383.45" y="135.9" font-size="27.6">,</text>
<text transform="translate(1400.72,135.9) scale(1.184,1.000)" font-size="27.6" font-style="italic">h</text>
<text transform="translate(1417.04,140.1) scale(1.150,1.000)" font-size="19.69">0</text>
<text transform="translate(1435.44,136.65) scale(1.573,0.900)" font-size="27.6">=</text>
<text transform="translate(1465.17,135.9) scale(1.077,1.000)" font-size="27.6">0.2</text>
<path d="M1245.5 163.83h52" stroke="#377eb8" stroke-width="3.7"/>
<text transform="translate(1304.59,171.43) scale(1.220,1.000)" font-size="27.6" font-style="italic">γ</text>
<text transform="translate(1319.24,175.63) scale(1.150,1.000)" font-size="19.69">0</text>
<text transform="translate(1338.14,172.18) scale(1.573,0.900)" font-size="27.6">=</text>
<text x="1369.07" y="171.43" font-size="27.6">1</text>
<text x="1383.45" y="171.43" font-size="27.6">,</text>
<text transform="translate(1400.72,171.43) scale(1.184,1.000)" font-size="27.6" font-style="italic">h</text>
<text transform="translate(1417.04,175.63) scale(1.150,1.000)" font-size="19.69">0</text>
<text transform="translate(1435.44,172.18) scale(1.573,0.900)" font-size="27.6">=</text>
<text transform="translate(1465.19,171.43) scale(1.053,1.000)" font-size="27.6">0.7</text>
<path d="M1245.5 199.36h52" stroke="#e41a1c" stroke-width="3.7"/>
<text transform="translate(1304.59,206.96) scale(1.220,1.000)" font-size="27.6" font-style="italic">γ</text>
<text transform="translate(1319.24,211.16) scale(1.150,1.000)" font-size="19.69">0</text>
<text transform="translate(1338.14,207.71) scale(1.573,0.900)" font-size="27.6">=</text>
<text x="1369.07" y="206.96" font-size="27.6">1</text>
<text x="1383.45" y="206.96" font-size="27.6">,</text>
<text transform="translate(1400.72,206.96) scale(1.184,1.000)" font-size="27.6" font-style="italic">h</text>
<text transform="translate(1417.04,211.16) scale(1.150,1.000)" font-size="19.69">0</text>
<text transform="translate(1435.44,207.71) scale(1.573,0.900)" font-size="27.6">=</text>
<text transform="translate(1465.08,206.96) scale(1.080,1.000)" font-size="27.6">1.2</text>
<path d="M1245.5 234.89h52" stroke="#bf8040" stroke-width="3.7"/>
<text transform="translate(1304.59,242.49) scale(1.220,1.000)" font-size="27.6" font-style="italic">γ</text>
<text transform="translate(1319.24,246.69) scale(1.150,1.000)" font-size="19.69">0</text>
<text transform="translate(1338.14,243.24) scale(1.573,0.900)" font-size="27.6">=</text>
<text x="1369.07" y="242.49" font-size="27.6">1</text>
<text x="1383.45" y="242.49" font-size="27.6">,</text>
<text transform="translate(1400.72,242.49) scale(1.184,1.000)" font-size="27.6" font-style="italic">h</text>
<text transform="translate(1417.04,246.69) scale(1.150,1.000)" font-size="19.69">0</text>
<text transform="translate(1435.44,243.24) scale(1.573,0.900)" font-size="27.6">=</text>
<text x="1465.09" y="242.49" font-size="27.6">2</text>
<rect x="509.5" y="768.1" width="182.1" height="160.1" fill="#fff" stroke="#000" stroke-width="1.4"/>
<path d="M520.6 792.4h51.6" stroke="#bf8040" stroke-width="3.7"/>
<text transform="translate(579.28,801.1) scale(1.055,1.000)" font-size="27.6" font-style="italic">θ</text>
<text transform="translate(600.86,801.85) scale(1.487,0.900)" font-size="27.6">=</text>
<text transform="translate(631.28,801.1) scale(0.811,1.000)" font-size="27.6" font-style="italic">π</text>
<text transform="translate(649.2,806.9) scale(1.500,1.480)" font-size="27.6">/</text>
<text x="661.6" y="801.1" font-size="27.6">5</text>
<path d="M520.6 829.48h51.6" stroke="#377eb8" stroke-width="3.7"/>
<text transform="translate(579.28,838.18) scale(1.055,1.000)" font-size="27.6" font-style="italic">θ</text>
<text transform="translate(600.86,838.93) scale(1.487,0.900)" font-size="27.6">=</text>
<text transform="translate(631.28,838.18) scale(0.811,1.000)" font-size="27.6" font-style="italic">π</text>
<text transform="translate(649.2,843.98) scale(1.500,1.480)" font-size="27.6">/</text>
<text x="662.66" y="838.18" font-size="27.6">4</text>
<path d="M520.6 866.56h51.6" stroke="#4daf4a" stroke-width="3.7"/>
<text transform="translate(579.28,875.26) scale(1.055,1.000)" font-size="27.6" font-style="italic">θ</text>
<text transform="translate(600.86,876.01) scale(1.487,0.900)" font-size="27.6">=</text>
<text transform="translate(631.28,875.26) scale(0.811,1.000)" font-size="27.6" font-style="italic">π</text>
<text transform="translate(649.2,881.06) scale(1.500,1.480)" font-size="27.6">/</text>
<text x="661.88" y="875.26" font-size="27.6">3</text>
<path d="M520.6 903.64h51.6" stroke="#e41a1c" stroke-width="3.7"/>
<text transform="translate(579.28,912.34) scale(1.055,1.000)" font-size="27.6" font-style="italic">θ</text>
<text transform="translate(600.86,913.09) scale(1.487,0.900)" font-size="27.6">=</text>
<text transform="translate(631.28,912.34) scale(0.811,1.000)" font-size="27.6" font-style="italic">π</text>
<text transform="translate(649.2,918.14) scale(1.500,1.480)" font-size="27.6">/</text>
<text x="661.99" y="912.34" font-size="27.6">2</text>
<rect x="1316.7" y="768.1" width="195.7" height="160.1" fill="#fff" stroke="#000" stroke-width="1.4"/>
<path d="M1327.8 792.4h51.6" stroke="#bf8040" stroke-width="3.7"/>
<text transform="translate(1386.48,801.1) scale(1.055,1.000)" font-size="27.6" font-style="italic">θ</text>
<text transform="translate(1408.06,801.85) scale(1.487,0.900)" font-size="27.6">=</text>
<text transform="translate(1438.48,801.1) scale(0.811,1.000)" font-size="27.6" font-style="italic">π</text>
<text transform="translate(1456.4,806.9) scale(1.500,1.480)" font-size="27.6">/</text>
<text x="1468.8" y="801.1" font-size="27.6">5</text>
<path d="M1327.8 829.48h51.6" stroke="#377eb8" stroke-width="3.7"/>
<text transform="translate(1386.48,838.18) scale(1.055,1.000)" font-size="27.6" font-style="italic">θ</text>
<text transform="translate(1408.06,838.93) scale(1.487,0.900)" font-size="27.6">=</text>
<text transform="translate(1438.48,838.18) scale(0.811,1.000)" font-size="27.6" font-style="italic">π</text>
<text transform="translate(1456.4,843.98) scale(1.500,1.480)" font-size="27.6">/</text>
<text x="1469.86" y="838.18" font-size="27.6">4</text>
<path d="M1327.8 866.56h51.6" stroke="#4daf4a" stroke-width="3.7"/>
<text transform="translate(1386.48,875.26) scale(1.055,1.000)" font-size="27.6" font-style="italic">θ</text>
<text transform="translate(1408.06,876.01) scale(1.487,0.900)" font-size="27.6">=</text>
<text transform="translate(1438.48,875.26) scale(0.811,1.000)" font-size="27.6" font-style="italic">π</text>
<text transform="translate(1456.4,881.06) scale(1.500,1.480)" font-size="27.6">/</text>
<text x="1469.08" y="875.26" font-size="27.6">3</text>
<path d="M1327.8 903.64h51.6" stroke="#e41a1c" stroke-width="3.7"/>
<text transform="translate(1386.48,912.34) scale(1.055,1.000)" font-size="27.6" font-style="italic">θ</text>
<text transform="translate(1408.06,913.09) scale(1.487,0.900)" font-size="27.6">=</text>
<text x="1438.19" y="912.34" font-size="27.6">2</text>
<text transform="translate(1452.38,912.34) scale(0.811,1.000)" font-size="27.6" font-style="italic">π</text>
<text transform="translate(1470.3,918.14) scale(1.500,1.480)" font-size="27.6">/</text>
<text x="1482.7" y="912.34" font-size="27.6">5</text>
</svg>
</body></html>
